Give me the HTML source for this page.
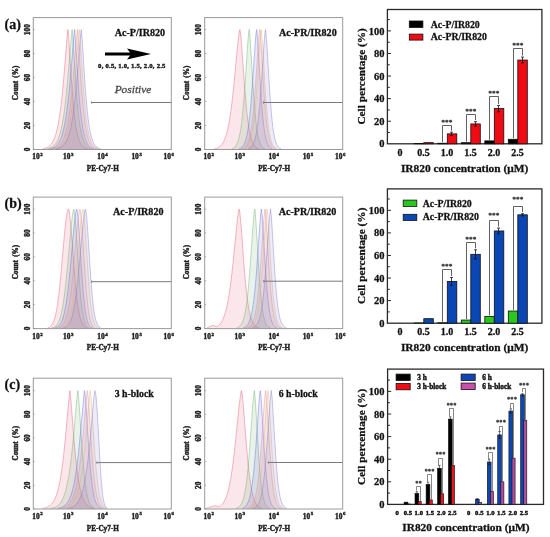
<!DOCTYPE html><html><head><meta charset="utf-8"><style>html,body{margin:0;padding:0;background:#fff;}svg{display:block;filter:blur(0.42px)} text{stroke-width:0.28px;paint-order:stroke} text.s{stroke-width:0.42px}</style></head><body>
<svg width="550" height="537" viewBox="0 0 550 537">
<rect width="550" height="537" fill="#fff"/>
<text x="4.6" y="28.90" style="font-family:'Liberation Serif',serif;font-weight:bold;font-size:14px" fill="#111" stroke="#111">(a)</text>
<text x="4.6" y="208.10" style="font-family:'Liberation Serif',serif;font-weight:bold;font-size:14px" fill="#111" stroke="#111">(b)</text>
<text x="4.6" y="389.20" style="font-family:'Liberation Serif',serif;font-weight:bold;font-size:14px" fill="#111" stroke="#111">(c)</text>
<g>
<path d="M42.7,149.40 L42.7,148.8 L43.5,148.7 L44.3,148.5 L45.1,148.3 L45.9,148.0 L46.7,147.7 L47.5,147.3 L48.3,146.8 L49.1,146.2 L49.9,145.5 L50.7,144.7 L51.5,143.7 L52.3,142.5 L53.1,141.0 L53.9,139.3 L54.8,137.3 L55.6,134.9 L56.4,132.1 L57.2,128.9 L58.0,125.1 L58.8,120.7 L59.6,115.7 L60.4,110.1 L61.2,103.7 L62.0,96.5 L62.8,88.6 L63.6,79.9 L64.4,70.5 L65.2,60.6 L66.0,50.5 L66.8,40.6 L67.6,32.0 L68.0,29.6 L68.5,34.3 L69.3,46.3 L70.1,59.4 L70.9,72.2 L71.7,84.1 L72.5,94.8 L73.3,104.1 L74.1,112.2 L74.9,119.1 L75.7,124.9 L76.5,129.7 L77.3,133.7 L78.1,136.9 L78.9,139.6 L79.7,141.7 L80.5,143.4 L81.3,144.7 L82.2,145.8 L83.0,146.6 L83.8,147.3 L84.6,147.8 L85.4,148.2 L86.2,148.5 L87.0,148.7 L87.8,148.9 L87.8,149.40 Z" fill="#e6506e" fill-opacity="0.14"/>
<path d="M42.7,148.8 L43.5,148.7 L44.3,148.5 L45.1,148.3 L45.9,148.0 L46.7,147.7 L47.5,147.3 L48.3,146.8 L49.1,146.2 L49.9,145.5 L50.7,144.7 L51.5,143.7 L52.3,142.5 L53.1,141.0 L53.9,139.3 L54.8,137.3 L55.6,134.9 L56.4,132.1 L57.2,128.9 L58.0,125.1 L58.8,120.7 L59.6,115.7 L60.4,110.1 L61.2,103.7 L62.0,96.5 L62.8,88.6 L63.6,79.9 L64.4,70.5 L65.2,60.6 L66.0,50.5 L66.8,40.6 L67.6,32.0 L68.0,29.6 L68.5,34.3 L69.3,46.3 L70.1,59.4 L70.9,72.2 L71.7,84.1 L72.5,94.8 L73.3,104.1 L74.1,112.2 L74.9,119.1 L75.7,124.9 L76.5,129.7 L77.3,133.7 L78.1,136.9 L78.9,139.6 L79.7,141.7 L80.5,143.4 L81.3,144.7 L82.2,145.8 L83.0,146.6 L83.8,147.3 L84.6,147.8 L85.4,148.2 L86.2,148.5 L87.0,148.7 L87.8,148.9" fill="none" stroke="#e6506e" stroke-opacity="0.5" stroke-width="0.8"/>
<path d="M46.7,149.40 L46.7,148.8 L47.5,148.7 L48.3,148.5 L49.1,148.3 L49.9,148.0 L50.7,147.7 L51.5,147.3 L52.3,146.9 L53.1,146.3 L53.9,145.6 L54.8,144.8 L55.6,143.8 L56.4,142.6 L57.2,141.2 L58.0,139.5 L58.8,137.5 L59.6,135.1 L60.4,132.4 L61.2,129.2 L62.0,125.4 L62.8,121.1 L63.6,116.2 L64.4,110.6 L65.2,104.3 L66.0,97.2 L66.8,89.3 L67.6,80.7 L68.5,71.3 L69.3,61.5 L70.1,51.4 L70.9,41.5 L71.7,32.7 L72.1,29.6 L72.5,33.4 L73.3,45.2 L74.1,58.3 L74.9,71.1 L75.7,83.1 L76.5,93.9 L77.3,103.4 L78.1,111.6 L78.9,118.6 L79.7,124.4 L80.5,129.3 L81.3,133.4 L82.2,136.7 L83.0,139.4 L83.8,141.5 L84.6,143.2 L85.4,144.6 L86.2,145.7 L87.0,146.5 L87.8,147.2 L88.6,147.7 L89.4,148.1 L90.2,148.4 L91.0,148.7 L91.8,148.9 L91.8,149.40 Z" fill="#64aa64" fill-opacity="0.14"/>
<path d="M46.7,148.8 L47.5,148.7 L48.3,148.5 L49.1,148.3 L49.9,148.0 L50.7,147.7 L51.5,147.3 L52.3,146.9 L53.1,146.3 L53.9,145.6 L54.8,144.8 L55.6,143.8 L56.4,142.6 L57.2,141.2 L58.0,139.5 L58.8,137.5 L59.6,135.1 L60.4,132.4 L61.2,129.2 L62.0,125.4 L62.8,121.1 L63.6,116.2 L64.4,110.6 L65.2,104.3 L66.0,97.2 L66.8,89.3 L67.6,80.7 L68.5,71.3 L69.3,61.5 L70.1,51.4 L70.9,41.5 L71.7,32.7 L72.1,29.6 L72.5,33.4 L73.3,45.2 L74.1,58.3 L74.9,71.1 L75.7,83.1 L76.5,93.9 L77.3,103.4 L78.1,111.6 L78.9,118.6 L79.7,124.4 L80.5,129.3 L81.3,133.4 L82.2,136.7 L83.0,139.4 L83.8,141.5 L84.6,143.2 L85.4,144.6 L86.2,145.7 L87.0,146.5 L87.8,147.2 L88.6,147.7 L89.4,148.1 L90.2,148.4 L91.0,148.7 L91.8,148.9" fill="none" stroke="#64aa64" stroke-opacity="0.5" stroke-width="0.8"/>
<path d="M49.1,149.40 L49.1,148.8 L49.9,148.7 L50.7,148.5 L51.5,148.3 L52.3,148.1 L53.1,147.8 L53.9,147.4 L54.8,146.9 L55.6,146.4 L56.4,145.7 L57.2,144.9 L58.0,143.9 L58.8,142.7 L59.6,141.3 L60.4,139.7 L61.2,137.7 L62.0,135.4 L62.8,132.7 L63.6,129.5 L64.4,125.8 L65.2,121.6 L66.0,116.7 L66.8,111.2 L67.6,104.9 L68.5,97.9 L69.3,90.1 L70.1,81.6 L70.9,72.3 L71.7,62.5 L72.5,52.4 L73.3,42.4 L74.1,33.5 L74.6,29.6 L74.9,32.4 L75.7,43.9 L76.5,57.0 L77.3,69.9 L78.1,81.9 L78.9,92.8 L79.7,102.5 L80.5,110.8 L81.3,117.9 L82.2,123.9 L83.0,128.9 L83.8,133.0 L84.6,136.4 L85.4,139.1 L86.2,141.3 L87.0,143.1 L87.8,144.5 L88.6,145.6 L89.4,146.5 L90.2,147.2 L91.0,147.7 L91.8,148.1 L92.6,148.4 L93.4,148.7 L94.2,148.8 L94.2,149.40 Z" fill="#5a64dc" fill-opacity="0.14"/>
<path d="M49.1,148.8 L49.9,148.7 L50.7,148.5 L51.5,148.3 L52.3,148.1 L53.1,147.8 L53.9,147.4 L54.8,146.9 L55.6,146.4 L56.4,145.7 L57.2,144.9 L58.0,143.9 L58.8,142.7 L59.6,141.3 L60.4,139.7 L61.2,137.7 L62.0,135.4 L62.8,132.7 L63.6,129.5 L64.4,125.8 L65.2,121.6 L66.0,116.7 L66.8,111.2 L67.6,104.9 L68.5,97.9 L69.3,90.1 L70.1,81.6 L70.9,72.3 L71.7,62.5 L72.5,52.4 L73.3,42.4 L74.1,33.5 L74.6,29.6 L74.9,32.4 L75.7,43.9 L76.5,57.0 L77.3,69.9 L78.1,81.9 L78.9,92.8 L79.7,102.5 L80.5,110.8 L81.3,117.9 L82.2,123.9 L83.0,128.9 L83.8,133.0 L84.6,136.4 L85.4,139.1 L86.2,141.3 L87.0,143.1 L87.8,144.5 L88.6,145.6 L89.4,146.5 L90.2,147.2 L91.0,147.7 L91.8,148.1 L92.6,148.4 L93.4,148.7 L94.2,148.8" fill="none" stroke="#5a64dc" stroke-opacity="0.5" stroke-width="0.8"/>
<path d="M51.5,149.40 L51.5,148.9 L52.3,148.8 L53.1,148.6 L53.9,148.5 L54.8,148.2 L55.6,148.0 L56.4,147.6 L57.2,147.2 L58.0,146.7 L58.8,146.1 L59.6,145.4 L60.4,144.5 L61.2,143.4 L62.0,142.2 L62.8,140.7 L63.6,138.9 L64.4,136.8 L65.2,134.3 L66.0,131.5 L66.8,128.1 L67.6,124.2 L68.5,119.7 L69.3,114.6 L70.1,108.8 L70.9,102.2 L71.7,94.9 L72.5,86.8 L73.3,77.9 L74.1,68.4 L74.9,58.5 L75.7,48.4 L76.5,38.6 L77.3,30.6 L77.5,29.6 L78.1,36.6 L78.9,49.1 L79.7,62.2 L80.5,74.8 L81.3,86.5 L82.2,96.8 L83.0,105.9 L83.8,113.8 L84.6,120.4 L85.4,126.0 L86.2,130.6 L87.0,134.4 L87.8,137.5 L88.6,140.1 L89.4,142.1 L90.2,143.7 L91.0,145.0 L91.8,146.0 L92.6,146.8 L93.4,147.4 L94.2,147.9 L95.0,148.2 L95.9,148.5 L96.7,148.7 L97.5,148.9 L97.5,149.40 Z" fill="#e6828c" fill-opacity="0.14"/>
<path d="M51.5,148.9 L52.3,148.8 L53.1,148.6 L53.9,148.5 L54.8,148.2 L55.6,148.0 L56.4,147.6 L57.2,147.2 L58.0,146.7 L58.8,146.1 L59.6,145.4 L60.4,144.5 L61.2,143.4 L62.0,142.2 L62.8,140.7 L63.6,138.9 L64.4,136.8 L65.2,134.3 L66.0,131.5 L66.8,128.1 L67.6,124.2 L68.5,119.7 L69.3,114.6 L70.1,108.8 L70.9,102.2 L71.7,94.9 L72.5,86.8 L73.3,77.9 L74.1,68.4 L74.9,58.5 L75.7,48.4 L76.5,38.6 L77.3,30.6 L77.5,29.6 L78.1,36.6 L78.9,49.1 L79.7,62.2 L80.5,74.8 L81.3,86.5 L82.2,96.8 L83.0,105.9 L83.8,113.8 L84.6,120.4 L85.4,126.0 L86.2,130.6 L87.0,134.4 L87.8,137.5 L88.6,140.1 L89.4,142.1 L90.2,143.7 L91.0,145.0 L91.8,146.0 L92.6,146.8 L93.4,147.4 L94.2,147.9 L95.0,148.2 L95.9,148.5 L96.7,148.7 L97.5,148.9" fill="none" stroke="#e6828c" stroke-opacity="0.5" stroke-width="0.8"/>
<path d="M53.9,149.40 L53.9,148.8 L54.8,148.7 L55.6,148.5 L56.4,148.3 L57.2,148.0 L58.0,147.7 L58.8,147.3 L59.6,146.8 L60.4,146.3 L61.2,145.6 L62.0,144.7 L62.8,143.7 L63.6,142.5 L64.4,141.1 L65.2,139.4 L66.0,137.3 L66.8,135.0 L67.6,132.2 L68.5,128.9 L69.3,125.2 L70.1,120.8 L70.9,115.9 L71.7,110.2 L72.5,103.8 L73.3,96.7 L74.1,88.7 L74.9,80.1 L75.7,70.7 L76.5,60.8 L77.3,50.7 L78.1,40.8 L78.9,32.2 L79.3,29.6 L79.7,34.1 L80.5,46.1 L81.3,59.2 L82.2,72.0 L83.0,83.8 L83.8,94.5 L84.6,103.9 L85.4,112.1 L86.2,119.0 L87.0,124.8 L87.8,129.6 L88.6,133.6 L89.4,136.9 L90.2,139.5 L91.0,141.6 L91.8,143.3 L92.6,144.7 L93.4,145.8 L94.2,146.6 L95.0,147.2 L95.9,147.8 L96.7,148.2 L97.5,148.5 L98.3,148.7 L99.1,148.9 L99.1,149.40 Z" fill="#d7af82" fill-opacity="0.14"/>
<path d="M53.9,148.8 L54.8,148.7 L55.6,148.5 L56.4,148.3 L57.2,148.0 L58.0,147.7 L58.8,147.3 L59.6,146.8 L60.4,146.3 L61.2,145.6 L62.0,144.7 L62.8,143.7 L63.6,142.5 L64.4,141.1 L65.2,139.4 L66.0,137.3 L66.8,135.0 L67.6,132.2 L68.5,128.9 L69.3,125.2 L70.1,120.8 L70.9,115.9 L71.7,110.2 L72.5,103.8 L73.3,96.7 L74.1,88.7 L74.9,80.1 L75.7,70.7 L76.5,60.8 L77.3,50.7 L78.1,40.8 L78.9,32.2 L79.3,29.6 L79.7,34.1 L80.5,46.1 L81.3,59.2 L82.2,72.0 L83.0,83.8 L83.8,94.5 L84.6,103.9 L85.4,112.1 L86.2,119.0 L87.0,124.8 L87.8,129.6 L88.6,133.6 L89.4,136.9 L90.2,139.5 L91.0,141.6 L91.8,143.3 L92.6,144.7 L93.4,145.8 L94.2,146.6 L95.0,147.2 L95.9,147.8 L96.7,148.2 L97.5,148.5 L98.3,148.7 L99.1,148.9" fill="none" stroke="#d7af82" stroke-opacity="0.5" stroke-width="0.8"/>
<path d="M55.6,149.40 L55.6,148.9 L56.4,148.7 L57.2,148.6 L58.0,148.4 L58.8,148.2 L59.6,147.9 L60.4,147.5 L61.2,147.1 L62.0,146.5 L62.8,145.9 L63.6,145.1 L64.4,144.2 L65.2,143.1 L66.0,141.8 L66.8,140.2 L67.6,138.3 L68.5,136.2 L69.3,133.6 L70.1,130.6 L70.9,127.1 L71.7,123.0 L72.5,118.3 L73.3,113.0 L74.1,107.0 L74.9,100.2 L75.7,92.7 L76.5,84.3 L77.3,75.3 L78.1,65.7 L78.9,55.6 L79.7,45.5 L80.5,36.1 L81.3,29.6 L81.3,29.9 L82.2,40.0 L83.0,52.8 L83.8,65.9 L84.6,78.3 L85.4,89.5 L86.2,99.6 L87.0,108.3 L87.8,115.8 L88.6,122.1 L89.4,127.4 L90.2,131.8 L91.0,135.4 L91.8,138.3 L92.6,140.7 L93.4,142.6 L94.2,144.1 L95.0,145.3 L95.9,146.2 L96.7,147.0 L97.5,147.5 L98.3,148.0 L99.1,148.3 L99.9,148.6 L100.7,148.8 L100.7,149.40 Z" fill="#826ec8" fill-opacity="0.14"/>
<path d="M55.6,148.9 L56.4,148.7 L57.2,148.6 L58.0,148.4 L58.8,148.2 L59.6,147.9 L60.4,147.5 L61.2,147.1 L62.0,146.5 L62.8,145.9 L63.6,145.1 L64.4,144.2 L65.2,143.1 L66.0,141.8 L66.8,140.2 L67.6,138.3 L68.5,136.2 L69.3,133.6 L70.1,130.6 L70.9,127.1 L71.7,123.0 L72.5,118.3 L73.3,113.0 L74.1,107.0 L74.9,100.2 L75.7,92.7 L76.5,84.3 L77.3,75.3 L78.1,65.7 L78.9,55.6 L79.7,45.5 L80.5,36.1 L81.3,29.6 L81.3,29.9 L82.2,40.0 L83.0,52.8 L83.8,65.9 L84.6,78.3 L85.4,89.5 L86.2,99.6 L87.0,108.3 L87.8,115.8 L88.6,122.1 L89.4,127.4 L90.2,131.8 L91.0,135.4 L91.8,138.3 L92.6,140.7 L93.4,142.6 L94.2,144.1 L95.0,145.3 L95.9,146.2 L96.7,147.0 L97.5,147.5 L98.3,148.0 L99.1,148.3 L99.9,148.6 L100.7,148.8" fill="none" stroke="#826ec8" stroke-opacity="0.5" stroke-width="0.8"/>
</g>
<rect x="33.30" y="17.60" width="138.00" height="131.90" fill="none" stroke="#9a9a9a" stroke-width="1"/>
<line x1="33.30" y1="149.40" x2="34.80" y2="149.40" stroke="#888" stroke-width="0.6"/>
<text class="s" transform="translate(29.50,149.40) rotate(-90)" text-anchor="middle" style="font-family:'Liberation Serif',serif;font-weight:bold;font-size:7.4px" fill="#222" stroke="#222">0</text>
<line x1="33.30" y1="125.44" x2="34.80" y2="125.44" stroke="#888" stroke-width="0.6"/>
<text class="s" transform="translate(29.50,125.44) rotate(-90)" text-anchor="middle" style="font-family:'Liberation Serif',serif;font-weight:bold;font-size:7.4px" fill="#222" stroke="#222">20</text>
<line x1="33.30" y1="101.48" x2="34.80" y2="101.48" stroke="#888" stroke-width="0.6"/>
<text class="s" transform="translate(29.50,101.48) rotate(-90)" text-anchor="middle" style="font-family:'Liberation Serif',serif;font-weight:bold;font-size:7.4px" fill="#222" stroke="#222">40</text>
<line x1="33.30" y1="77.52" x2="34.80" y2="77.52" stroke="#888" stroke-width="0.6"/>
<text class="s" transform="translate(29.50,77.52) rotate(-90)" text-anchor="middle" style="font-family:'Liberation Serif',serif;font-weight:bold;font-size:7.4px" fill="#222" stroke="#222">60</text>
<line x1="33.30" y1="53.56" x2="34.80" y2="53.56" stroke="#888" stroke-width="0.6"/>
<text class="s" transform="translate(29.50,53.56) rotate(-90)" text-anchor="middle" style="font-family:'Liberation Serif',serif;font-weight:bold;font-size:7.4px" fill="#222" stroke="#222">80</text>
<line x1="33.30" y1="29.60" x2="34.80" y2="29.60" stroke="#888" stroke-width="0.6"/>
<text class="s" transform="translate(29.50,29.60) rotate(-90)" text-anchor="middle" style="font-family:'Liberation Serif',serif;font-weight:bold;font-size:7.4px" fill="#222" stroke="#222">100</text>
<text class="s" transform="translate(17.90,82.90) rotate(-90)" text-anchor="middle" style="font-family:'Liberation Serif',serif;font-weight:bold;font-size:7.2px" fill="#222" stroke="#222">Count<tspan dx="3.3">(%)</tspan></text>
<text class="s" x="32.20" y="159.20" style="font-family:'Liberation Serif',serif;font-weight:bold;font-size:7.4px" fill="#222" stroke="#222">10<tspan dx="0.6" dy="-3.1" style="font-size:4.9px">2</tspan></text>
<text class="s" x="63.10" y="159.20" style="font-family:'Liberation Serif',serif;font-weight:bold;font-size:7.4px" fill="#222" stroke="#222">10<tspan dx="0.6" dy="-3.1" style="font-size:4.9px">3</tspan></text>
<text class="s" x="97.20" y="159.20" style="font-family:'Liberation Serif',serif;font-weight:bold;font-size:7.4px" fill="#222" stroke="#222">10<tspan dx="0.6" dy="-3.1" style="font-size:4.9px">4</tspan></text>
<text class="s" x="131.40" y="159.20" style="font-family:'Liberation Serif',serif;font-weight:bold;font-size:7.4px" fill="#222" stroke="#222">10<tspan dx="0.6" dy="-3.1" style="font-size:4.9px">5</tspan></text>
<text class="s" x="163.60" y="159.20" style="font-family:'Liberation Serif',serif;font-weight:bold;font-size:7.4px" fill="#222" stroke="#222">10<tspan dx="0.6" dy="-3.1" style="font-size:4.9px">6</tspan></text>
<text class="s" x="102.80" y="170.80" text-anchor="middle" style="font-family:'Liberation Serif',serif;font-weight:bold;font-size:7.2px" fill="#222" stroke="#222">PE-Cy7-H</text>
<line x1="91.40" y1="102.50" x2="171.30" y2="102.50" stroke="#7a7a7a" stroke-width="1"/>
<line x1="91.40" y1="101.30" x2="91.40" y2="103.70" stroke="#777" stroke-width="0.8"/>
<text x="165.10" y="35.90" text-anchor="end" style="font-family:'Liberation Serif',serif;font-weight:bold;font-size:10.1px" fill="#111" stroke="#111">Ac-P/IR820</text>
<path d="M105,52.4 H130 L127,48.6 L151,54 L127,59.4 L130,55.6 H105 Z" fill="#000"/>
<text class="s" x="131.9" y="67.8" text-anchor="middle" style="font-family:'Liberation Serif',serif;font-weight:bold;font-size:6.7px;letter-spacing:0.22px" fill="#222" stroke="#222">0, 0.5, 1.0, 1.5, 2.0, 2.5</text>
<text x="133.0" y="93.3" text-anchor="middle" style="font-family:'Liberation Serif',serif;font-style:italic;font-size:11.4px;stroke-width:0.3px" fill="#484848" stroke="#484848">Positive</text>
<g>
<path d="M214.1,149.40 L214.1,148.9 L214.9,148.8 L215.7,148.6 L216.5,148.4 L217.3,148.1 L218.1,147.7 L218.9,147.3 L219.7,146.7 L220.5,146.0 L221.3,145.2 L222.1,144.2 L222.9,143.0 L223.7,141.5 L224.5,139.7 L225.3,137.6 L226.2,135.2 L227.0,132.3 L227.8,129.0 L228.6,125.1 L229.4,120.7 L230.2,115.7 L231.0,110.0 L231.8,103.8 L232.6,96.9 L233.4,89.4 L234.2,81.5 L235.0,73.1 L235.8,64.5 L236.6,55.9 L237.4,47.5 L238.2,39.8 L239.0,33.5 L239.9,29.7 L239.9,29.6 L240.7,34.5 L241.5,43.5 L242.3,54.3 L243.1,65.7 L243.9,76.9 L244.7,87.6 L245.5,97.5 L246.3,106.4 L247.1,114.1 L247.9,120.8 L248.7,126.5 L249.5,131.3 L250.3,135.2 L251.1,138.3 L251.9,140.9 L252.7,142.9 L253.6,144.5 L254.4,145.7 L255.2,146.6 L256.0,147.4 L256.8,147.9 L257.6,148.3 L258.4,148.6 L259.2,148.8 L259.2,149.40 Z" fill="#e6506e" fill-opacity="0.14"/>
<path d="M214.1,148.9 L214.9,148.8 L215.7,148.6 L216.5,148.4 L217.3,148.1 L218.1,147.7 L218.9,147.3 L219.7,146.7 L220.5,146.0 L221.3,145.2 L222.1,144.2 L222.9,143.0 L223.7,141.5 L224.5,139.7 L225.3,137.6 L226.2,135.2 L227.0,132.3 L227.8,129.0 L228.6,125.1 L229.4,120.7 L230.2,115.7 L231.0,110.0 L231.8,103.8 L232.6,96.9 L233.4,89.4 L234.2,81.5 L235.0,73.1 L235.8,64.5 L236.6,55.9 L237.4,47.5 L238.2,39.8 L239.0,33.5 L239.9,29.7 L239.9,29.6 L240.7,34.5 L241.5,43.5 L242.3,54.3 L243.1,65.7 L243.9,76.9 L244.7,87.6 L245.5,97.5 L246.3,106.4 L247.1,114.1 L247.9,120.8 L248.7,126.5 L249.5,131.3 L250.3,135.2 L251.1,138.3 L251.9,140.9 L252.7,142.9 L253.6,144.5 L254.4,145.7 L255.2,146.6 L256.0,147.4 L256.8,147.9 L257.6,148.3 L258.4,148.6 L259.2,148.8" fill="none" stroke="#e6506e" stroke-opacity="0.5" stroke-width="0.8"/>
<path d="M231.8,149.40 L231.8,148.7 L232.6,148.5 L233.4,148.1 L234.2,147.5 L235.0,146.8 L235.8,145.8 L236.6,144.5 L237.4,142.7 L238.2,140.5 L239.0,137.6 L239.9,133.9 L240.7,129.3 L241.5,123.7 L242.3,116.9 L243.1,108.9 L243.9,99.6 L244.7,89.1 L245.5,77.5 L246.3,65.3 L247.1,53.0 L247.9,41.5 L248.7,32.4 L249.2,29.6 L249.5,31.4 L250.3,41.1 L251.1,53.9 L251.9,67.7 L252.7,81.2 L253.6,93.7 L254.4,104.8 L255.2,114.3 L256.0,122.3 L256.8,128.8 L257.6,133.9 L258.4,138.0 L259.2,141.1 L260.0,143.4 L260.8,145.1 L261.6,146.4 L262.4,147.3 L263.2,148.0 L264.0,148.4 L264.8,148.7 L264.8,149.40 Z" fill="#64aa64" fill-opacity="0.14"/>
<path d="M231.8,148.7 L232.6,148.5 L233.4,148.1 L234.2,147.5 L235.0,146.8 L235.8,145.8 L236.6,144.5 L237.4,142.7 L238.2,140.5 L239.0,137.6 L239.9,133.9 L240.7,129.3 L241.5,123.7 L242.3,116.9 L243.1,108.9 L243.9,99.6 L244.7,89.1 L245.5,77.5 L246.3,65.3 L247.1,53.0 L247.9,41.5 L248.7,32.4 L249.2,29.6 L249.5,31.4 L250.3,41.1 L251.1,53.9 L251.9,67.7 L252.7,81.2 L253.6,93.7 L254.4,104.8 L255.2,114.3 L256.0,122.3 L256.8,128.8 L257.6,133.9 L258.4,138.0 L259.2,141.1 L260.0,143.4 L260.8,145.1 L261.6,146.4 L262.4,147.3 L263.2,148.0 L264.0,148.4 L264.8,148.7" fill="none" stroke="#64aa64" stroke-opacity="0.5" stroke-width="0.8"/>
<path d="M239.0,149.40 L239.0,148.8 L239.9,148.5 L240.7,148.1 L241.5,147.6 L242.3,146.9 L243.1,146.0 L243.9,144.7 L244.7,143.1 L245.5,140.9 L246.3,138.2 L247.1,134.6 L247.9,130.2 L248.7,124.8 L249.5,118.3 L250.3,110.5 L251.1,101.4 L251.9,91.1 L252.7,79.7 L253.6,67.5 L254.4,55.2 L255.2,43.5 L256.0,33.8 L256.6,29.6 L256.8,30.3 L257.6,39.0 L258.4,51.5 L259.2,65.2 L260.0,78.8 L260.8,91.5 L261.6,102.9 L262.4,112.7 L263.2,120.9 L264.0,127.7 L264.8,133.1 L265.6,137.3 L266.4,140.6 L267.3,143.0 L268.1,144.9 L268.9,146.2 L269.7,147.2 L270.5,147.9 L271.3,148.4 L272.1,148.7 L272.1,149.40 Z" fill="#5a64dc" fill-opacity="0.14"/>
<path d="M239.0,148.8 L239.9,148.5 L240.7,148.1 L241.5,147.6 L242.3,146.9 L243.1,146.0 L243.9,144.7 L244.7,143.1 L245.5,140.9 L246.3,138.2 L247.1,134.6 L247.9,130.2 L248.7,124.8 L249.5,118.3 L250.3,110.5 L251.1,101.4 L251.9,91.1 L252.7,79.7 L253.6,67.5 L254.4,55.2 L255.2,43.5 L256.0,33.8 L256.6,29.6 L256.8,30.3 L257.6,39.0 L258.4,51.5 L259.2,65.2 L260.0,78.8 L260.8,91.5 L261.6,102.9 L262.4,112.7 L263.2,120.9 L264.0,127.7 L264.8,133.1 L265.6,137.3 L266.4,140.6 L267.3,143.0 L268.1,144.9 L268.9,146.2 L269.7,147.2 L270.5,147.9 L271.3,148.4 L272.1,148.7" fill="none" stroke="#5a64dc" stroke-opacity="0.5" stroke-width="0.8"/>
<path d="M242.3,149.40 L242.3,148.7 L243.1,148.5 L243.9,148.1 L244.7,147.5 L245.5,146.8 L246.3,145.8 L247.1,144.5 L247.9,142.8 L248.7,140.6 L249.5,137.7 L250.3,134.0 L251.1,129.5 L251.9,123.9 L252.7,117.2 L253.6,109.2 L254.4,99.9 L255.2,89.4 L256.0,77.9 L256.8,65.6 L257.6,53.3 L258.4,41.8 L259.2,32.6 L259.7,29.6 L260.0,31.2 L260.8,40.8 L261.6,53.5 L262.4,67.3 L263.2,80.8 L264.0,93.4 L264.8,104.5 L265.6,114.1 L266.4,122.1 L267.3,128.6 L268.1,133.8 L268.9,137.9 L269.7,141.0 L270.5,143.3 L271.3,145.1 L272.1,146.4 L272.9,147.3 L273.7,148.0 L274.5,148.4 L275.3,148.7 L275.3,149.40 Z" fill="#e6828c" fill-opacity="0.14"/>
<path d="M242.3,148.7 L243.1,148.5 L243.9,148.1 L244.7,147.5 L245.5,146.8 L246.3,145.8 L247.1,144.5 L247.9,142.8 L248.7,140.6 L249.5,137.7 L250.3,134.0 L251.1,129.5 L251.9,123.9 L252.7,117.2 L253.6,109.2 L254.4,99.9 L255.2,89.4 L256.0,77.9 L256.8,65.6 L257.6,53.3 L258.4,41.8 L259.2,32.6 L259.7,29.6 L260.0,31.2 L260.8,40.8 L261.6,53.5 L262.4,67.3 L263.2,80.8 L264.0,93.4 L264.8,104.5 L265.6,114.1 L266.4,122.1 L267.3,128.6 L268.1,133.8 L268.9,137.9 L269.7,141.0 L270.5,143.3 L271.3,145.1 L272.1,146.4 L272.9,147.3 L273.7,148.0 L274.5,148.4 L275.3,148.7" fill="none" stroke="#e6828c" stroke-opacity="0.5" stroke-width="0.8"/>
<path d="M243.9,149.40 L243.9,148.7 L244.7,148.4 L245.5,148.0 L246.3,147.4 L247.1,146.7 L247.9,145.7 L248.7,144.3 L249.5,142.5 L250.3,140.2 L251.1,137.2 L251.9,133.5 L252.7,128.8 L253.6,123.0 L254.4,116.1 L255.2,108.0 L256.0,98.5 L256.8,87.9 L257.6,76.2 L258.4,63.9 L259.2,51.6 L260.0,40.4 L260.8,31.7 L261.2,29.6 L261.6,32.2 L262.4,42.4 L263.2,55.4 L264.0,69.2 L264.8,82.6 L265.6,95.0 L266.4,105.9 L267.3,115.3 L268.1,123.1 L268.9,129.4 L269.7,134.4 L270.5,138.3 L271.3,141.3 L272.1,143.6 L272.9,145.3 L273.7,146.5 L274.5,147.4 L275.3,148.0 L276.1,148.5 L276.9,148.8 L276.9,149.40 Z" fill="#d7af82" fill-opacity="0.14"/>
<path d="M243.9,148.7 L244.7,148.4 L245.5,148.0 L246.3,147.4 L247.1,146.7 L247.9,145.7 L248.7,144.3 L249.5,142.5 L250.3,140.2 L251.1,137.2 L251.9,133.5 L252.7,128.8 L253.6,123.0 L254.4,116.1 L255.2,108.0 L256.0,98.5 L256.8,87.9 L257.6,76.2 L258.4,63.9 L259.2,51.6 L260.0,40.4 L260.8,31.7 L261.2,29.6 L261.6,32.2 L262.4,42.4 L263.2,55.4 L264.0,69.2 L264.8,82.6 L265.6,95.0 L266.4,105.9 L267.3,115.3 L268.1,123.1 L268.9,129.4 L269.7,134.4 L270.5,138.3 L271.3,141.3 L272.1,143.6 L272.9,145.3 L273.7,146.5 L274.5,147.4 L275.3,148.0 L276.1,148.5 L276.9,148.8" fill="none" stroke="#d7af82" stroke-opacity="0.5" stroke-width="0.8"/>
<path d="M247.9,149.40 L247.9,148.8 L248.7,148.5 L249.5,148.2 L250.3,147.7 L251.1,147.0 L251.9,146.0 L252.7,144.8 L253.6,143.2 L254.4,141.0 L255.2,138.3 L256.0,134.8 L256.8,130.5 L257.6,125.1 L258.4,118.6 L259.2,110.8 L260.0,101.8 L260.8,91.6 L261.6,80.2 L262.4,68.1 L263.2,55.7 L264.0,44.0 L264.8,34.2 L265.5,29.6 L265.6,30.1 L266.4,38.6 L267.3,50.9 L268.1,64.6 L268.9,78.2 L269.7,91.0 L270.5,102.4 L271.3,112.3 L272.1,120.6 L272.9,127.4 L273.7,132.9 L274.5,137.1 L275.3,140.4 L276.1,142.9 L276.9,144.8 L277.7,146.1 L278.5,147.1 L279.3,147.8 L280.1,148.3 L281.0,148.7 L281.0,149.40 Z" fill="#826ec8" fill-opacity="0.14"/>
<path d="M247.9,148.8 L248.7,148.5 L249.5,148.2 L250.3,147.7 L251.1,147.0 L251.9,146.0 L252.7,144.8 L253.6,143.2 L254.4,141.0 L255.2,138.3 L256.0,134.8 L256.8,130.5 L257.6,125.1 L258.4,118.6 L259.2,110.8 L260.0,101.8 L260.8,91.6 L261.6,80.2 L262.4,68.1 L263.2,55.7 L264.0,44.0 L264.8,34.2 L265.5,29.6 L265.6,30.1 L266.4,38.6 L267.3,50.9 L268.1,64.6 L268.9,78.2 L269.7,91.0 L270.5,102.4 L271.3,112.3 L272.1,120.6 L272.9,127.4 L273.7,132.9 L274.5,137.1 L275.3,140.4 L276.1,142.9 L276.9,144.8 L277.7,146.1 L278.5,147.1 L279.3,147.8 L280.1,148.3 L281.0,148.7" fill="none" stroke="#826ec8" stroke-opacity="0.5" stroke-width="0.8"/>
</g>
<rect x="204.70" y="17.60" width="138.00" height="131.90" fill="none" stroke="#9a9a9a" stroke-width="1"/>
<line x1="204.70" y1="149.40" x2="206.20" y2="149.40" stroke="#888" stroke-width="0.6"/>
<text class="s" transform="translate(200.90,149.40) rotate(-90)" text-anchor="middle" style="font-family:'Liberation Serif',serif;font-weight:bold;font-size:7.4px" fill="#222" stroke="#222">0</text>
<line x1="204.70" y1="125.44" x2="206.20" y2="125.44" stroke="#888" stroke-width="0.6"/>
<text class="s" transform="translate(200.90,125.44) rotate(-90)" text-anchor="middle" style="font-family:'Liberation Serif',serif;font-weight:bold;font-size:7.4px" fill="#222" stroke="#222">20</text>
<line x1="204.70" y1="101.48" x2="206.20" y2="101.48" stroke="#888" stroke-width="0.6"/>
<text class="s" transform="translate(200.90,101.48) rotate(-90)" text-anchor="middle" style="font-family:'Liberation Serif',serif;font-weight:bold;font-size:7.4px" fill="#222" stroke="#222">40</text>
<line x1="204.70" y1="77.52" x2="206.20" y2="77.52" stroke="#888" stroke-width="0.6"/>
<text class="s" transform="translate(200.90,77.52) rotate(-90)" text-anchor="middle" style="font-family:'Liberation Serif',serif;font-weight:bold;font-size:7.4px" fill="#222" stroke="#222">60</text>
<line x1="204.70" y1="53.56" x2="206.20" y2="53.56" stroke="#888" stroke-width="0.6"/>
<text class="s" transform="translate(200.90,53.56) rotate(-90)" text-anchor="middle" style="font-family:'Liberation Serif',serif;font-weight:bold;font-size:7.4px" fill="#222" stroke="#222">80</text>
<line x1="204.70" y1="29.60" x2="206.20" y2="29.60" stroke="#888" stroke-width="0.6"/>
<text class="s" transform="translate(200.90,29.60) rotate(-90)" text-anchor="middle" style="font-family:'Liberation Serif',serif;font-weight:bold;font-size:7.4px" fill="#222" stroke="#222">100</text>
<text class="s" transform="translate(189.30,82.90) rotate(-90)" text-anchor="middle" style="font-family:'Liberation Serif',serif;font-weight:bold;font-size:7.2px" fill="#222" stroke="#222">Count<tspan dx="3.3">(%)</tspan></text>
<text class="s" x="203.60" y="159.20" style="font-family:'Liberation Serif',serif;font-weight:bold;font-size:7.4px" fill="#222" stroke="#222">10<tspan dx="0.6" dy="-3.1" style="font-size:4.9px">2</tspan></text>
<text class="s" x="234.50" y="159.20" style="font-family:'Liberation Serif',serif;font-weight:bold;font-size:7.4px" fill="#222" stroke="#222">10<tspan dx="0.6" dy="-3.1" style="font-size:4.9px">3</tspan></text>
<text class="s" x="268.60" y="159.20" style="font-family:'Liberation Serif',serif;font-weight:bold;font-size:7.4px" fill="#222" stroke="#222">10<tspan dx="0.6" dy="-3.1" style="font-size:4.9px">4</tspan></text>
<text class="s" x="302.80" y="159.20" style="font-family:'Liberation Serif',serif;font-weight:bold;font-size:7.4px" fill="#222" stroke="#222">10<tspan dx="0.6" dy="-3.1" style="font-size:4.9px">5</tspan></text>
<text class="s" x="335.00" y="159.20" style="font-family:'Liberation Serif',serif;font-weight:bold;font-size:7.4px" fill="#222" stroke="#222">10<tspan dx="0.6" dy="-3.1" style="font-size:4.9px">6</tspan></text>
<text class="s" x="274.20" y="170.80" text-anchor="middle" style="font-family:'Liberation Serif',serif;font-weight:bold;font-size:7.2px" fill="#222" stroke="#222">PE-Cy7-H</text>
<line x1="263.50" y1="102.50" x2="342.70" y2="102.50" stroke="#7a7a7a" stroke-width="1"/>
<line x1="263.50" y1="101.30" x2="263.50" y2="103.70" stroke="#777" stroke-width="0.8"/>
<text x="336.70" y="35.90" text-anchor="end" style="font-family:'Liberation Serif',serif;font-weight:bold;font-size:10.1px" fill="#111" stroke="#111">Ac-PR/IR820</text>
<g>
<path d="M47.5,328.50 L47.5,328.0 L48.3,327.7 L49.1,327.4 L49.9,326.9 L50.7,326.3 L51.5,325.4 L52.3,324.2 L53.1,322.6 L53.9,320.6 L54.8,318.1 L55.6,314.9 L56.4,311.1 L57.2,306.4 L58.0,301.0 L58.8,294.7 L59.6,287.5 L60.4,279.6 L61.2,271.1 L62.0,262.1 L62.8,252.8 L63.6,243.6 L64.4,234.8 L65.2,226.7 L66.0,219.7 L66.8,214.2 L67.6,210.6 L68.5,209.1 L68.5,209.1 L69.3,211.8 L70.1,218.1 L70.9,226.6 L71.7,236.5 L72.5,247.1 L73.3,257.8 L74.1,268.2 L74.9,277.9 L75.7,286.7 L76.5,294.6 L77.3,301.3 L78.1,307.1 L78.9,311.8 L79.7,315.7 L80.5,318.8 L81.3,321.3 L82.2,323.2 L83.0,324.6 L83.8,325.7 L84.6,326.5 L85.4,327.1 L86.2,327.5 L87.0,327.8 L87.0,328.50 Z" fill="#e6506e" fill-opacity="0.14"/>
<path d="M47.5,328.0 L48.3,327.7 L49.1,327.4 L49.9,326.9 L50.7,326.3 L51.5,325.4 L52.3,324.2 L53.1,322.6 L53.9,320.6 L54.8,318.1 L55.6,314.9 L56.4,311.1 L57.2,306.4 L58.0,301.0 L58.8,294.7 L59.6,287.5 L60.4,279.6 L61.2,271.1 L62.0,262.1 L62.8,252.8 L63.6,243.6 L64.4,234.8 L65.2,226.7 L66.0,219.7 L66.8,214.2 L67.6,210.6 L68.5,209.1 L68.5,209.1 L69.3,211.8 L70.1,218.1 L70.9,226.6 L71.7,236.5 L72.5,247.1 L73.3,257.8 L74.1,268.2 L74.9,277.9 L75.7,286.7 L76.5,294.6 L77.3,301.3 L78.1,307.1 L78.9,311.8 L79.7,315.7 L80.5,318.8 L81.3,321.3 L82.2,323.2 L83.0,324.6 L83.8,325.7 L84.6,326.5 L85.4,327.1 L86.2,327.5 L87.0,327.8" fill="none" stroke="#e6506e" stroke-opacity="0.5" stroke-width="0.8"/>
<path d="M51.5,328.50 L51.5,328.0 L52.3,327.8 L53.1,327.6 L53.9,327.2 L54.8,326.8 L55.6,326.2 L56.4,325.4 L57.2,324.4 L58.0,323.1 L58.8,321.4 L59.6,319.4 L60.4,316.9 L61.2,313.9 L62.0,310.3 L62.8,306.0 L63.6,301.0 L64.4,295.3 L65.2,288.7 L66.0,281.5 L66.8,273.5 L67.6,265.0 L68.5,256.0 L69.3,246.8 L70.1,237.8 L70.9,229.2 L71.7,221.4 L72.5,215.0 L73.3,210.5 L73.9,209.1 L74.1,209.5 L74.9,215.0 L75.7,224.4 L76.5,236.2 L77.3,249.0 L78.1,261.9 L78.9,274.0 L79.7,285.0 L80.5,294.6 L81.3,302.6 L82.2,309.2 L83.0,314.4 L83.8,318.4 L84.6,321.4 L85.4,323.6 L86.2,325.2 L87.0,326.3 L87.8,327.1 L88.6,327.6 L89.4,327.9 L89.4,328.50 Z" fill="#64aa64" fill-opacity="0.14"/>
<path d="M51.5,328.0 L52.3,327.8 L53.1,327.6 L53.9,327.2 L54.8,326.8 L55.6,326.2 L56.4,325.4 L57.2,324.4 L58.0,323.1 L58.8,321.4 L59.6,319.4 L60.4,316.9 L61.2,313.9 L62.0,310.3 L62.8,306.0 L63.6,301.0 L64.4,295.3 L65.2,288.7 L66.0,281.5 L66.8,273.5 L67.6,265.0 L68.5,256.0 L69.3,246.8 L70.1,237.8 L70.9,229.2 L71.7,221.4 L72.5,215.0 L73.3,210.5 L73.9,209.1 L74.1,209.5 L74.9,215.0 L75.7,224.4 L76.5,236.2 L77.3,249.0 L78.1,261.9 L78.9,274.0 L79.7,285.0 L80.5,294.6 L81.3,302.6 L82.2,309.2 L83.0,314.4 L83.8,318.4 L84.6,321.4 L85.4,323.6 L86.2,325.2 L87.0,326.3 L87.8,327.1 L88.6,327.6 L89.4,327.9" fill="none" stroke="#64aa64" stroke-opacity="0.5" stroke-width="0.8"/>
<path d="M54.8,328.50 L54.8,327.9 L55.6,327.7 L56.4,327.4 L57.2,327.0 L58.0,326.5 L58.8,325.9 L59.6,325.0 L60.4,323.9 L61.2,322.5 L62.0,320.7 L62.8,318.5 L63.6,315.8 L64.4,312.6 L65.2,308.7 L66.0,304.1 L66.8,298.8 L67.6,292.7 L68.5,285.9 L69.3,278.3 L70.1,270.1 L70.9,261.4 L71.7,252.3 L72.5,243.2 L73.3,234.3 L74.1,225.9 L74.9,218.6 L75.7,212.9 L76.5,209.5 L76.8,209.1 L77.3,211.0 L78.1,218.4 L78.9,229.0 L79.7,241.3 L80.5,254.2 L81.3,266.9 L82.2,278.6 L83.0,289.0 L83.8,298.0 L84.6,305.4 L85.4,311.4 L86.2,316.1 L87.0,319.7 L87.8,322.3 L88.6,324.3 L89.4,325.7 L90.2,326.6 L91.0,327.3 L91.8,327.7 L92.6,328.0 L92.6,328.50 Z" fill="#5a64dc" fill-opacity="0.14"/>
<path d="M54.8,327.9 L55.6,327.7 L56.4,327.4 L57.2,327.0 L58.0,326.5 L58.8,325.9 L59.6,325.0 L60.4,323.9 L61.2,322.5 L62.0,320.7 L62.8,318.5 L63.6,315.8 L64.4,312.6 L65.2,308.7 L66.0,304.1 L66.8,298.8 L67.6,292.7 L68.5,285.9 L69.3,278.3 L70.1,270.1 L70.9,261.4 L71.7,252.3 L72.5,243.2 L73.3,234.3 L74.1,225.9 L74.9,218.6 L75.7,212.9 L76.5,209.5 L76.8,209.1 L77.3,211.0 L78.1,218.4 L78.9,229.0 L79.7,241.3 L80.5,254.2 L81.3,266.9 L82.2,278.6 L83.0,289.0 L83.8,298.0 L84.6,305.4 L85.4,311.4 L86.2,316.1 L87.0,319.7 L87.8,322.3 L88.6,324.3 L89.4,325.7 L90.2,326.6 L91.0,327.3 L91.8,327.7 L92.6,328.0" fill="none" stroke="#5a64dc" stroke-opacity="0.5" stroke-width="0.8"/>
<path d="M58.0,328.50 L58.0,327.9 L58.8,327.7 L59.6,327.4 L60.4,327.0 L61.2,326.5 L62.0,325.8 L62.8,325.0 L63.6,323.8 L64.4,322.4 L65.2,320.6 L66.0,318.4 L66.8,315.7 L67.6,312.5 L68.5,308.6 L69.3,304.0 L70.1,298.6 L70.9,292.5 L71.7,285.7 L72.5,278.1 L73.3,269.9 L74.1,261.1 L74.9,252.1 L75.7,242.9 L76.5,234.0 L77.3,225.7 L78.1,218.4 L78.9,212.8 L79.7,209.4 L80.0,209.1 L80.5,211.2 L81.3,218.7 L82.2,229.3 L83.0,241.7 L83.8,254.6 L84.6,267.2 L85.4,278.9 L86.2,289.3 L87.0,298.2 L87.8,305.6 L88.6,311.6 L89.4,316.2 L90.2,319.8 L91.0,322.4 L91.8,324.3 L92.6,325.7 L93.4,326.7 L94.2,327.3 L95.0,327.7 L95.0,328.50 Z" fill="#e6828c" fill-opacity="0.14"/>
<path d="M58.0,327.9 L58.8,327.7 L59.6,327.4 L60.4,327.0 L61.2,326.5 L62.0,325.8 L62.8,325.0 L63.6,323.8 L64.4,322.4 L65.2,320.6 L66.0,318.4 L66.8,315.7 L67.6,312.5 L68.5,308.6 L69.3,304.0 L70.1,298.6 L70.9,292.5 L71.7,285.7 L72.5,278.1 L73.3,269.9 L74.1,261.1 L74.9,252.1 L75.7,242.9 L76.5,234.0 L77.3,225.7 L78.1,218.4 L78.9,212.8 L79.7,209.4 L80.0,209.1 L80.5,211.2 L81.3,218.7 L82.2,229.3 L83.0,241.7 L83.8,254.6 L84.6,267.2 L85.4,278.9 L86.2,289.3 L87.0,298.2 L87.8,305.6 L88.6,311.6 L89.4,316.2 L90.2,319.8 L91.0,322.4 L91.8,324.3 L92.6,325.7 L93.4,326.7 L94.2,327.3 L95.0,327.7" fill="none" stroke="#e6828c" stroke-opacity="0.5" stroke-width="0.8"/>
<path d="M61.2,328.50 L61.2,327.9 L62.0,327.7 L62.8,327.4 L63.6,327.0 L64.4,326.4 L65.2,325.7 L66.0,324.8 L66.8,323.6 L67.6,322.2 L68.5,320.3 L69.3,318.0 L70.1,315.3 L70.9,311.9 L71.7,307.9 L72.5,303.2 L73.3,297.8 L74.1,291.5 L74.9,284.6 L75.7,276.9 L76.5,268.6 L77.3,259.8 L78.1,250.7 L78.9,241.5 L79.7,232.7 L80.5,224.5 L81.3,217.5 L82.2,212.1 L83.0,209.2 L83.1,209.1 L83.8,212.1 L84.6,220.1 L85.4,231.1 L86.2,243.6 L87.0,256.6 L87.8,269.1 L88.6,280.6 L89.4,290.8 L90.2,299.5 L91.0,306.6 L91.8,312.4 L92.6,316.8 L93.4,320.2 L94.2,322.8 L95.0,324.6 L95.9,325.9 L96.7,326.8 L97.5,327.4 L98.3,327.8 L98.3,328.50 Z" fill="#d7af82" fill-opacity="0.14"/>
<path d="M61.2,327.9 L62.0,327.7 L62.8,327.4 L63.6,327.0 L64.4,326.4 L65.2,325.7 L66.0,324.8 L66.8,323.6 L67.6,322.2 L68.5,320.3 L69.3,318.0 L70.1,315.3 L70.9,311.9 L71.7,307.9 L72.5,303.2 L73.3,297.8 L74.1,291.5 L74.9,284.6 L75.7,276.9 L76.5,268.6 L77.3,259.8 L78.1,250.7 L78.9,241.5 L79.7,232.7 L80.5,224.5 L81.3,217.5 L82.2,212.1 L83.0,209.2 L83.1,209.1 L83.8,212.1 L84.6,220.1 L85.4,231.1 L86.2,243.6 L87.0,256.6 L87.8,269.1 L88.6,280.6 L89.4,290.8 L90.2,299.5 L91.0,306.6 L91.8,312.4 L92.6,316.8 L93.4,320.2 L94.2,322.8 L95.0,324.6 L95.9,325.9 L96.7,326.8 L97.5,327.4 L98.3,327.8" fill="none" stroke="#d7af82" stroke-opacity="0.5" stroke-width="0.8"/>
<path d="M63.6,328.50 L63.6,327.9 L64.4,327.7 L65.2,327.4 L66.0,327.0 L66.8,326.4 L67.6,325.7 L68.5,324.8 L69.3,323.6 L70.1,322.1 L70.9,320.3 L71.7,318.0 L72.5,315.2 L73.3,311.8 L74.1,307.8 L74.9,303.1 L75.7,297.6 L76.5,291.4 L77.3,284.4 L78.1,276.7 L78.9,268.4 L79.7,259.6 L80.5,250.5 L81.3,241.3 L82.2,232.5 L83.0,224.3 L83.8,217.3 L84.6,212.0 L85.4,209.2 L85.5,209.1 L86.2,212.2 L87.0,220.4 L87.8,231.4 L88.6,243.9 L89.4,256.8 L90.2,269.3 L91.0,280.9 L91.8,291.0 L92.6,299.6 L93.4,306.8 L94.2,312.5 L95.0,316.9 L95.9,320.3 L96.7,322.8 L97.5,324.6 L98.3,325.9 L99.1,326.8 L99.9,327.4 L100.7,327.8 L100.7,328.50 Z" fill="#826ec8" fill-opacity="0.14"/>
<path d="M63.6,327.9 L64.4,327.7 L65.2,327.4 L66.0,327.0 L66.8,326.4 L67.6,325.7 L68.5,324.8 L69.3,323.6 L70.1,322.1 L70.9,320.3 L71.7,318.0 L72.5,315.2 L73.3,311.8 L74.1,307.8 L74.9,303.1 L75.7,297.6 L76.5,291.4 L77.3,284.4 L78.1,276.7 L78.9,268.4 L79.7,259.6 L80.5,250.5 L81.3,241.3 L82.2,232.5 L83.0,224.3 L83.8,217.3 L84.6,212.0 L85.4,209.2 L85.5,209.1 L86.2,212.2 L87.0,220.4 L87.8,231.4 L88.6,243.9 L89.4,256.8 L90.2,269.3 L91.0,280.9 L91.8,291.0 L92.6,299.6 L93.4,306.8 L94.2,312.5 L95.0,316.9 L95.9,320.3 L96.7,322.8 L97.5,324.6 L98.3,325.9 L99.1,326.8 L99.9,327.4 L100.7,327.8" fill="none" stroke="#826ec8" stroke-opacity="0.5" stroke-width="0.8"/>
</g>
<rect x="33.30" y="197.10" width="138.00" height="131.50" fill="none" stroke="#9a9a9a" stroke-width="1"/>
<line x1="33.30" y1="328.50" x2="34.80" y2="328.50" stroke="#888" stroke-width="0.6"/>
<text class="s" transform="translate(29.50,328.50) rotate(-90)" text-anchor="middle" style="font-family:'Liberation Serif',serif;font-weight:bold;font-size:7.4px" fill="#222" stroke="#222">0</text>
<line x1="33.30" y1="304.62" x2="34.80" y2="304.62" stroke="#888" stroke-width="0.6"/>
<text class="s" transform="translate(29.50,304.62) rotate(-90)" text-anchor="middle" style="font-family:'Liberation Serif',serif;font-weight:bold;font-size:7.4px" fill="#222" stroke="#222">20</text>
<line x1="33.30" y1="280.74" x2="34.80" y2="280.74" stroke="#888" stroke-width="0.6"/>
<text class="s" transform="translate(29.50,280.74) rotate(-90)" text-anchor="middle" style="font-family:'Liberation Serif',serif;font-weight:bold;font-size:7.4px" fill="#222" stroke="#222">40</text>
<line x1="33.30" y1="256.86" x2="34.80" y2="256.86" stroke="#888" stroke-width="0.6"/>
<text class="s" transform="translate(29.50,256.86) rotate(-90)" text-anchor="middle" style="font-family:'Liberation Serif',serif;font-weight:bold;font-size:7.4px" fill="#222" stroke="#222">60</text>
<line x1="33.30" y1="232.98" x2="34.80" y2="232.98" stroke="#888" stroke-width="0.6"/>
<text class="s" transform="translate(29.50,232.98) rotate(-90)" text-anchor="middle" style="font-family:'Liberation Serif',serif;font-weight:bold;font-size:7.4px" fill="#222" stroke="#222">80</text>
<line x1="33.30" y1="209.10" x2="34.80" y2="209.10" stroke="#888" stroke-width="0.6"/>
<text class="s" transform="translate(29.50,209.10) rotate(-90)" text-anchor="middle" style="font-family:'Liberation Serif',serif;font-weight:bold;font-size:7.4px" fill="#222" stroke="#222">100</text>
<text class="s" transform="translate(17.90,262.10) rotate(-90)" text-anchor="middle" style="font-family:'Liberation Serif',serif;font-weight:bold;font-size:7.2px" fill="#222" stroke="#222">Count<tspan dx="3.3">(%)</tspan></text>
<text class="s" x="32.20" y="338.70" style="font-family:'Liberation Serif',serif;font-weight:bold;font-size:7.4px" fill="#222" stroke="#222">10<tspan dx="0.6" dy="-3.1" style="font-size:4.9px">2</tspan></text>
<text class="s" x="63.10" y="338.70" style="font-family:'Liberation Serif',serif;font-weight:bold;font-size:7.4px" fill="#222" stroke="#222">10<tspan dx="0.6" dy="-3.1" style="font-size:4.9px">3</tspan></text>
<text class="s" x="97.20" y="338.70" style="font-family:'Liberation Serif',serif;font-weight:bold;font-size:7.4px" fill="#222" stroke="#222">10<tspan dx="0.6" dy="-3.1" style="font-size:4.9px">4</tspan></text>
<text class="s" x="131.40" y="338.70" style="font-family:'Liberation Serif',serif;font-weight:bold;font-size:7.4px" fill="#222" stroke="#222">10<tspan dx="0.6" dy="-3.1" style="font-size:4.9px">5</tspan></text>
<text class="s" x="163.60" y="338.70" style="font-family:'Liberation Serif',serif;font-weight:bold;font-size:7.4px" fill="#222" stroke="#222">10<tspan dx="0.6" dy="-3.1" style="font-size:4.9px">6</tspan></text>
<text class="s" x="102.80" y="350.00" text-anchor="middle" style="font-family:'Liberation Serif',serif;font-weight:bold;font-size:7.2px" fill="#222" stroke="#222">PE-Cy7-H</text>
<line x1="91.60" y1="281.70" x2="171.30" y2="281.70" stroke="#7a7a7a" stroke-width="1"/>
<line x1="91.60" y1="280.50" x2="91.60" y2="282.90" stroke="#777" stroke-width="0.8"/>
<text x="163.50" y="215.10" text-anchor="end" style="font-family:'Liberation Serif',serif;font-weight:bold;font-size:10.1px" fill="#111" stroke="#111">Ac-P/IR820</text>
<g>
<path d="M206.8,328.50 L206.8,327.9 L207.6,327.6 L208.4,327.2 L209.2,326.8 L210.0,326.4 L210.8,326.0 L211.6,325.7 L212.5,325.6 L213.3,325.5 L214.1,325.6 L214.9,325.9 L215.7,326.3 L216.5,326.7 L217.3,326.3 L218.1,325.8 L218.9,325.1 L219.7,324.3 L220.5,323.4 L221.3,322.2 L222.1,320.9 L222.9,319.2 L223.7,317.3 L224.5,315.1 L225.3,312.5 L226.2,309.5 L227.0,306.0 L227.8,302.0 L228.6,297.6 L229.4,292.5 L230.2,286.9 L231.0,280.8 L231.8,274.1 L232.6,266.8 L233.4,259.2 L234.2,251.2 L235.0,242.9 L235.8,234.7 L236.6,226.8 L237.4,219.5 L238.2,213.4 L239.0,209.4 L239.2,209.1 L239.9,212.8 L240.7,221.1 L241.5,231.3 L242.3,242.2 L243.1,253.2 L243.9,263.7 L244.7,273.5 L245.5,282.5 L246.3,290.4 L247.1,297.3 L247.9,303.2 L248.7,308.2 L249.5,312.4 L250.3,315.8 L251.1,318.6 L251.9,320.8 L252.7,322.6 L253.6,324.0 L254.4,325.1 L255.2,326.0 L256.0,326.6 L256.8,327.1 L257.6,327.5 L258.4,327.8 L259.2,328.0 L259.2,328.50 Z" fill="#e6506e" fill-opacity="0.14"/>
<path d="M206.8,327.9 L207.6,327.6 L208.4,327.2 L209.2,326.8 L210.0,326.4 L210.8,326.0 L211.6,325.7 L212.5,325.6 L213.3,325.5 L214.1,325.6 L214.9,325.9 L215.7,326.3 L216.5,326.7 L217.3,326.3 L218.1,325.8 L218.9,325.1 L219.7,324.3 L220.5,323.4 L221.3,322.2 L222.1,320.9 L222.9,319.2 L223.7,317.3 L224.5,315.1 L225.3,312.5 L226.2,309.5 L227.0,306.0 L227.8,302.0 L228.6,297.6 L229.4,292.5 L230.2,286.9 L231.0,280.8 L231.8,274.1 L232.6,266.8 L233.4,259.2 L234.2,251.2 L235.0,242.9 L235.8,234.7 L236.6,226.8 L237.4,219.5 L238.2,213.4 L239.0,209.4 L239.2,209.1 L239.9,212.8 L240.7,221.1 L241.5,231.3 L242.3,242.2 L243.1,253.2 L243.9,263.7 L244.7,273.5 L245.5,282.5 L246.3,290.4 L247.1,297.3 L247.9,303.2 L248.7,308.2 L249.5,312.4 L250.3,315.8 L251.1,318.6 L251.9,320.8 L252.7,322.6 L253.6,324.0 L254.4,325.1 L255.2,326.0 L256.0,326.6 L256.8,327.1 L257.6,327.5 L258.4,327.8 L259.2,328.0" fill="none" stroke="#e6506e" stroke-opacity="0.5" stroke-width="0.8"/>
<path d="M236.6,328.50 L236.6,327.9 L237.4,327.6 L238.2,327.2 L239.0,326.7 L239.9,326.1 L240.7,325.2 L241.5,324.0 L242.3,322.4 L243.1,320.4 L243.9,317.9 L244.7,314.7 L245.5,310.7 L246.3,305.7 L247.1,299.8 L247.9,292.7 L248.7,284.4 L249.5,274.9 L250.3,264.4 L251.1,253.0 L251.9,241.1 L252.7,229.3 L253.6,218.7 L254.4,210.7 L254.7,209.1 L255.2,212.2 L256.0,222.7 L256.8,235.7 L257.6,249.5 L258.4,262.8 L259.2,275.0 L260.0,285.8 L260.8,295.0 L261.6,302.7 L262.4,308.9 L263.2,313.9 L264.0,317.7 L264.8,320.6 L265.6,322.9 L266.4,324.5 L267.3,325.7 L268.1,326.6 L268.9,327.2 L269.7,327.6 L270.5,327.9 L270.5,328.50 Z" fill="#64aa64" fill-opacity="0.14"/>
<path d="M236.6,327.9 L237.4,327.6 L238.2,327.2 L239.0,326.7 L239.9,326.1 L240.7,325.2 L241.5,324.0 L242.3,322.4 L243.1,320.4 L243.9,317.9 L244.7,314.7 L245.5,310.7 L246.3,305.7 L247.1,299.8 L247.9,292.7 L248.7,284.4 L249.5,274.9 L250.3,264.4 L251.1,253.0 L251.9,241.1 L252.7,229.3 L253.6,218.7 L254.4,210.7 L254.7,209.1 L255.2,212.2 L256.0,222.7 L256.8,235.7 L257.6,249.5 L258.4,262.8 L259.2,275.0 L260.0,285.8 L260.8,295.0 L261.6,302.7 L262.4,308.9 L263.2,313.9 L264.0,317.7 L264.8,320.6 L265.6,322.9 L266.4,324.5 L267.3,325.7 L268.1,326.6 L268.9,327.2 L269.7,327.6 L270.5,327.9" fill="none" stroke="#64aa64" stroke-opacity="0.5" stroke-width="0.8"/>
<path d="M243.1,328.50 L243.1,327.9 L243.9,327.7 L244.7,327.4 L245.5,326.9 L246.3,326.3 L247.1,325.5 L247.9,324.4 L248.7,323.0 L249.5,321.1 L250.3,318.8 L251.1,315.8 L251.9,312.0 L252.7,307.4 L253.6,301.7 L254.4,295.0 L255.2,287.1 L256.0,278.0 L256.8,267.8 L257.6,256.6 L258.4,244.8 L259.2,233.0 L260.0,221.8 L260.8,212.8 L261.4,209.1 L261.6,210.1 L262.4,219.0 L263.2,231.5 L264.0,245.2 L264.8,258.7 L265.6,271.3 L266.4,282.6 L267.3,292.3 L268.1,300.5 L268.9,307.1 L269.7,312.4 L270.5,316.6 L271.3,319.8 L272.1,322.2 L272.9,324.0 L273.7,325.4 L274.5,326.3 L275.3,327.0 L276.1,327.5 L276.9,327.8 L276.9,328.50 Z" fill="#5a64dc" fill-opacity="0.14"/>
<path d="M243.1,327.9 L243.9,327.7 L244.7,327.4 L245.5,326.9 L246.3,326.3 L247.1,325.5 L247.9,324.4 L248.7,323.0 L249.5,321.1 L250.3,318.8 L251.1,315.8 L251.9,312.0 L252.7,307.4 L253.6,301.7 L254.4,295.0 L255.2,287.1 L256.0,278.0 L256.8,267.8 L257.6,256.6 L258.4,244.8 L259.2,233.0 L260.0,221.8 L260.8,212.8 L261.4,209.1 L261.6,210.1 L262.4,219.0 L263.2,231.5 L264.0,245.2 L264.8,258.7 L265.6,271.3 L266.4,282.6 L267.3,292.3 L268.1,300.5 L268.9,307.1 L269.7,312.4 L270.5,316.6 L271.3,319.8 L272.1,322.2 L272.9,324.0 L273.7,325.4 L274.5,326.3 L275.3,327.0 L276.1,327.5 L276.9,327.8" fill="none" stroke="#5a64dc" stroke-opacity="0.5" stroke-width="0.8"/>
<path d="M246.3,328.50 L246.3,328.0 L247.1,327.8 L247.9,327.5 L248.7,327.1 L249.5,326.6 L250.3,325.9 L251.1,324.9 L251.9,323.7 L252.7,322.0 L253.6,319.9 L254.4,317.2 L255.2,313.9 L256.0,309.7 L256.8,304.5 L257.6,298.3 L258.4,290.9 L259.2,282.4 L260.0,272.7 L260.8,261.9 L261.6,250.4 L262.4,238.5 L263.2,226.9 L264.0,216.6 L264.8,209.6 L265.0,209.1 L265.6,214.2 L266.4,225.4 L267.3,238.7 L268.1,252.5 L268.9,265.6 L269.7,277.5 L270.5,288.0 L271.3,296.9 L272.1,304.2 L272.9,310.1 L273.7,314.8 L274.5,318.4 L275.3,321.2 L276.1,323.3 L276.9,324.8 L277.7,325.9 L278.5,326.7 L279.3,327.3 L280.1,327.7 L281.0,327.9 L281.0,328.50 Z" fill="#e6828c" fill-opacity="0.14"/>
<path d="M246.3,328.0 L247.1,327.8 L247.9,327.5 L248.7,327.1 L249.5,326.6 L250.3,325.9 L251.1,324.9 L251.9,323.7 L252.7,322.0 L253.6,319.9 L254.4,317.2 L255.2,313.9 L256.0,309.7 L256.8,304.5 L257.6,298.3 L258.4,290.9 L259.2,282.4 L260.0,272.7 L260.8,261.9 L261.6,250.4 L262.4,238.5 L263.2,226.9 L264.0,216.6 L264.8,209.6 L265.0,209.1 L265.6,214.2 L266.4,225.4 L267.3,238.7 L268.1,252.5 L268.9,265.6 L269.7,277.5 L270.5,288.0 L271.3,296.9 L272.1,304.2 L272.9,310.1 L273.7,314.8 L274.5,318.4 L275.3,321.2 L276.1,323.3 L276.9,324.8 L277.7,325.9 L278.5,326.7 L279.3,327.3 L280.1,327.7 L281.0,327.9" fill="none" stroke="#e6828c" stroke-opacity="0.5" stroke-width="0.8"/>
<path d="M248.7,328.50 L248.7,327.9 L249.5,327.7 L250.3,327.3 L251.1,326.9 L251.9,326.3 L252.7,325.4 L253.6,324.3 L254.4,322.9 L255.2,321.0 L256.0,318.6 L256.8,315.6 L257.6,311.8 L258.4,307.1 L259.2,301.4 L260.0,294.6 L260.8,286.7 L261.6,277.5 L262.4,267.2 L263.2,256.0 L264.0,244.2 L264.8,232.4 L265.6,221.3 L266.4,212.4 L267.0,209.1 L267.3,210.4 L268.1,219.6 L268.9,232.2 L269.7,245.9 L270.5,259.4 L271.3,271.9 L272.1,283.1 L272.9,292.8 L273.7,300.8 L274.5,307.4 L275.3,312.7 L276.1,316.8 L276.9,319.9 L277.7,322.3 L278.5,324.1 L279.3,325.4 L280.1,326.4 L281.0,327.0 L281.8,327.5 L282.6,327.8 L282.6,328.50 Z" fill="#d7af82" fill-opacity="0.14"/>
<path d="M248.7,327.9 L249.5,327.7 L250.3,327.3 L251.1,326.9 L251.9,326.3 L252.7,325.4 L253.6,324.3 L254.4,322.9 L255.2,321.0 L256.0,318.6 L256.8,315.6 L257.6,311.8 L258.4,307.1 L259.2,301.4 L260.0,294.6 L260.8,286.7 L261.6,277.5 L262.4,267.2 L263.2,256.0 L264.0,244.2 L264.8,232.4 L265.6,221.3 L266.4,212.4 L267.0,209.1 L267.3,210.4 L268.1,219.6 L268.9,232.2 L269.7,245.9 L270.5,259.4 L271.3,271.9 L272.1,283.1 L272.9,292.8 L273.7,300.8 L274.5,307.4 L275.3,312.7 L276.1,316.8 L276.9,319.9 L277.7,322.3 L278.5,324.1 L279.3,325.4 L280.1,326.4 L281.0,327.0 L281.8,327.5 L282.6,327.8" fill="none" stroke="#d7af82" stroke-opacity="0.5" stroke-width="0.8"/>
<path d="M251.9,328.50 L251.9,328.0 L252.7,327.8 L253.6,327.5 L254.4,327.1 L255.2,326.5 L256.0,325.7 L256.8,324.7 L257.6,323.4 L258.4,321.7 L259.2,319.5 L260.0,316.7 L260.8,313.2 L261.6,308.8 L262.4,303.5 L263.2,297.1 L264.0,289.5 L264.8,280.8 L265.6,270.9 L266.4,260.0 L267.3,248.3 L268.1,236.4 L268.9,224.9 L269.7,215.1 L270.5,209.1 L270.5,209.1 L271.3,215.9 L272.1,227.6 L272.9,241.1 L273.7,254.8 L274.5,267.8 L275.3,279.5 L276.1,289.7 L276.9,298.2 L277.7,305.3 L278.5,311.0 L279.3,315.5 L280.1,319.0 L281.0,321.6 L281.8,323.6 L282.6,325.0 L283.4,326.1 L284.2,326.8 L285.0,327.4 L285.8,327.7 L286.6,328.0 L286.6,328.50 Z" fill="#826ec8" fill-opacity="0.14"/>
<path d="M251.9,328.0 L252.7,327.8 L253.6,327.5 L254.4,327.1 L255.2,326.5 L256.0,325.7 L256.8,324.7 L257.6,323.4 L258.4,321.7 L259.2,319.5 L260.0,316.7 L260.8,313.2 L261.6,308.8 L262.4,303.5 L263.2,297.1 L264.0,289.5 L264.8,280.8 L265.6,270.9 L266.4,260.0 L267.3,248.3 L268.1,236.4 L268.9,224.9 L269.7,215.1 L270.5,209.1 L270.5,209.1 L271.3,215.9 L272.1,227.6 L272.9,241.1 L273.7,254.8 L274.5,267.8 L275.3,279.5 L276.1,289.7 L276.9,298.2 L277.7,305.3 L278.5,311.0 L279.3,315.5 L280.1,319.0 L281.0,321.6 L281.8,323.6 L282.6,325.0 L283.4,326.1 L284.2,326.8 L285.0,327.4 L285.8,327.7 L286.6,328.0" fill="none" stroke="#826ec8" stroke-opacity="0.5" stroke-width="0.8"/>
</g>
<rect x="204.70" y="197.10" width="138.00" height="131.50" fill="none" stroke="#9a9a9a" stroke-width="1"/>
<line x1="204.70" y1="328.50" x2="206.20" y2="328.50" stroke="#888" stroke-width="0.6"/>
<text class="s" transform="translate(200.90,328.50) rotate(-90)" text-anchor="middle" style="font-family:'Liberation Serif',serif;font-weight:bold;font-size:7.4px" fill="#222" stroke="#222">0</text>
<line x1="204.70" y1="304.62" x2="206.20" y2="304.62" stroke="#888" stroke-width="0.6"/>
<text class="s" transform="translate(200.90,304.62) rotate(-90)" text-anchor="middle" style="font-family:'Liberation Serif',serif;font-weight:bold;font-size:7.4px" fill="#222" stroke="#222">20</text>
<line x1="204.70" y1="280.74" x2="206.20" y2="280.74" stroke="#888" stroke-width="0.6"/>
<text class="s" transform="translate(200.90,280.74) rotate(-90)" text-anchor="middle" style="font-family:'Liberation Serif',serif;font-weight:bold;font-size:7.4px" fill="#222" stroke="#222">40</text>
<line x1="204.70" y1="256.86" x2="206.20" y2="256.86" stroke="#888" stroke-width="0.6"/>
<text class="s" transform="translate(200.90,256.86) rotate(-90)" text-anchor="middle" style="font-family:'Liberation Serif',serif;font-weight:bold;font-size:7.4px" fill="#222" stroke="#222">60</text>
<line x1="204.70" y1="232.98" x2="206.20" y2="232.98" stroke="#888" stroke-width="0.6"/>
<text class="s" transform="translate(200.90,232.98) rotate(-90)" text-anchor="middle" style="font-family:'Liberation Serif',serif;font-weight:bold;font-size:7.4px" fill="#222" stroke="#222">80</text>
<line x1="204.70" y1="209.10" x2="206.20" y2="209.10" stroke="#888" stroke-width="0.6"/>
<text class="s" transform="translate(200.90,209.10) rotate(-90)" text-anchor="middle" style="font-family:'Liberation Serif',serif;font-weight:bold;font-size:7.4px" fill="#222" stroke="#222">100</text>
<text class="s" transform="translate(189.30,262.10) rotate(-90)" text-anchor="middle" style="font-family:'Liberation Serif',serif;font-weight:bold;font-size:7.2px" fill="#222" stroke="#222">Count<tspan dx="3.3">(%)</tspan></text>
<text class="s" x="203.60" y="338.70" style="font-family:'Liberation Serif',serif;font-weight:bold;font-size:7.4px" fill="#222" stroke="#222">10<tspan dx="0.6" dy="-3.1" style="font-size:4.9px">2</tspan></text>
<text class="s" x="234.50" y="338.70" style="font-family:'Liberation Serif',serif;font-weight:bold;font-size:7.4px" fill="#222" stroke="#222">10<tspan dx="0.6" dy="-3.1" style="font-size:4.9px">3</tspan></text>
<text class="s" x="268.60" y="338.70" style="font-family:'Liberation Serif',serif;font-weight:bold;font-size:7.4px" fill="#222" stroke="#222">10<tspan dx="0.6" dy="-3.1" style="font-size:4.9px">4</tspan></text>
<text class="s" x="302.80" y="338.70" style="font-family:'Liberation Serif',serif;font-weight:bold;font-size:7.4px" fill="#222" stroke="#222">10<tspan dx="0.6" dy="-3.1" style="font-size:4.9px">5</tspan></text>
<text class="s" x="335.00" y="338.70" style="font-family:'Liberation Serif',serif;font-weight:bold;font-size:7.4px" fill="#222" stroke="#222">10<tspan dx="0.6" dy="-3.1" style="font-size:4.9px">6</tspan></text>
<text class="s" x="274.20" y="350.00" text-anchor="middle" style="font-family:'Liberation Serif',serif;font-weight:bold;font-size:7.2px" fill="#222" stroke="#222">PE-Cy7-H</text>
<line x1="263.70" y1="281.20" x2="342.70" y2="281.20" stroke="#7a7a7a" stroke-width="1"/>
<line x1="263.70" y1="280.00" x2="263.70" y2="282.40" stroke="#777" stroke-width="0.8"/>
<text x="336.40" y="215.10" text-anchor="end" style="font-family:'Liberation Serif',serif;font-weight:bold;font-size:10.1px" fill="#111" stroke="#111">Ac-PR/IR820</text>
<g>
<path d="M42.7,508.90 L42.7,508.3 L43.5,508.2 L44.3,508.1 L45.1,507.9 L45.9,507.6 L46.7,507.4 L47.5,507.0 L48.3,506.6 L49.1,506.2 L49.9,505.6 L50.7,504.9 L51.5,504.1 L52.3,503.1 L53.1,502.0 L53.9,500.7 L54.8,499.1 L55.6,497.3 L56.4,495.2 L57.2,492.7 L58.0,489.9 L58.8,486.6 L59.6,482.8 L60.4,478.6 L61.2,473.7 L62.0,468.3 L62.8,462.2 L63.6,455.4 L64.4,448.0 L65.2,440.0 L66.0,431.4 L66.8,422.3 L67.6,413.0 L68.5,403.7 L69.3,395.3 L69.9,390.6 L70.1,391.6 L70.9,400.0 L71.7,410.2 L72.5,420.8 L73.3,431.2 L74.1,441.0 L74.9,450.0 L75.7,458.2 L76.5,465.5 L77.3,472.0 L78.1,477.6 L78.9,482.6 L79.7,486.8 L80.5,490.5 L81.3,493.6 L82.2,496.2 L83.0,498.5 L83.8,500.3 L84.6,501.9 L85.4,503.2 L86.2,504.2 L87.0,505.1 L87.8,505.8 L88.6,506.4 L89.4,506.9 L90.2,507.3 L91.0,507.6 L91.8,507.9 L92.6,508.1 L93.4,508.3 L94.2,508.4 L94.2,508.90 Z" fill="#e6506e" fill-opacity="0.14"/>
<path d="M42.7,508.3 L43.5,508.2 L44.3,508.1 L45.1,507.9 L45.9,507.6 L46.7,507.4 L47.5,507.0 L48.3,506.6 L49.1,506.2 L49.9,505.6 L50.7,504.9 L51.5,504.1 L52.3,503.1 L53.1,502.0 L53.9,500.7 L54.8,499.1 L55.6,497.3 L56.4,495.2 L57.2,492.7 L58.0,489.9 L58.8,486.6 L59.6,482.8 L60.4,478.6 L61.2,473.7 L62.0,468.3 L62.8,462.2 L63.6,455.4 L64.4,448.0 L65.2,440.0 L66.0,431.4 L66.8,422.3 L67.6,413.0 L68.5,403.7 L69.3,395.3 L69.9,390.6 L70.1,391.6 L70.9,400.0 L71.7,410.2 L72.5,420.8 L73.3,431.2 L74.1,441.0 L74.9,450.0 L75.7,458.2 L76.5,465.5 L77.3,472.0 L78.1,477.6 L78.9,482.6 L79.7,486.8 L80.5,490.5 L81.3,493.6 L82.2,496.2 L83.0,498.5 L83.8,500.3 L84.6,501.9 L85.4,503.2 L86.2,504.2 L87.0,505.1 L87.8,505.8 L88.6,506.4 L89.4,506.9 L90.2,507.3 L91.0,507.6 L91.8,507.9 L92.6,508.1 L93.4,508.3 L94.2,508.4" fill="none" stroke="#e6506e" stroke-opacity="0.5" stroke-width="0.8"/>
<path d="M49.9,508.90 L49.9,508.4 L50.7,508.3 L51.5,508.2 L52.3,508.0 L53.1,507.8 L53.9,507.6 L54.8,507.3 L55.6,507.0 L56.4,506.5 L57.2,506.1 L58.0,505.5 L58.8,504.8 L59.6,503.9 L60.4,502.9 L61.2,501.8 L62.0,500.4 L62.8,498.8 L63.6,496.9 L64.4,494.7 L65.2,492.2 L66.0,489.3 L66.8,485.9 L67.6,482.0 L68.5,477.7 L69.3,472.7 L70.1,467.1 L70.9,460.9 L71.7,454.0 L72.5,446.5 L73.3,438.3 L74.1,429.6 L74.9,420.4 L75.7,411.1 L76.5,402.0 L77.3,393.9 L77.8,390.6 L78.1,392.2 L78.9,400.8 L79.7,412.3 L80.5,424.9 L81.3,437.4 L82.2,449.3 L83.0,460.0 L83.8,469.5 L84.6,477.6 L85.4,484.4 L86.2,489.9 L87.0,494.4 L87.8,498.0 L88.6,500.8 L89.4,502.9 L90.2,504.5 L91.0,505.8 L91.8,506.7 L92.6,507.3 L93.4,507.8 L94.2,508.1 L95.0,508.4 L95.0,508.90 Z" fill="#64aa64" fill-opacity="0.14"/>
<path d="M49.9,508.4 L50.7,508.3 L51.5,508.2 L52.3,508.0 L53.1,507.8 L53.9,507.6 L54.8,507.3 L55.6,507.0 L56.4,506.5 L57.2,506.1 L58.0,505.5 L58.8,504.8 L59.6,503.9 L60.4,502.9 L61.2,501.8 L62.0,500.4 L62.8,498.8 L63.6,496.9 L64.4,494.7 L65.2,492.2 L66.0,489.3 L66.8,485.9 L67.6,482.0 L68.5,477.7 L69.3,472.7 L70.1,467.1 L70.9,460.9 L71.7,454.0 L72.5,446.5 L73.3,438.3 L74.1,429.6 L74.9,420.4 L75.7,411.1 L76.5,402.0 L77.3,393.9 L77.8,390.6 L78.1,392.2 L78.9,400.8 L79.7,412.3 L80.5,424.9 L81.3,437.4 L82.2,449.3 L83.0,460.0 L83.8,469.5 L84.6,477.6 L85.4,484.4 L86.2,489.9 L87.0,494.4 L87.8,498.0 L88.6,500.8 L89.4,502.9 L90.2,504.5 L91.0,505.8 L91.8,506.7 L92.6,507.3 L93.4,507.8 L94.2,508.1 L95.0,508.4" fill="none" stroke="#64aa64" stroke-opacity="0.5" stroke-width="0.8"/>
<path d="M57.2,508.90 L57.2,508.3 L58.0,508.2 L58.8,508.1 L59.6,507.9 L60.4,507.7 L61.2,507.4 L62.0,507.1 L62.8,506.7 L63.6,506.2 L64.4,505.7 L65.2,505.0 L66.0,504.2 L66.8,503.3 L67.6,502.2 L68.5,500.9 L69.3,499.3 L70.1,497.5 L70.9,495.4 L71.7,493.0 L72.5,490.2 L73.3,487.0 L74.1,483.3 L74.9,479.1 L75.7,474.3 L76.5,468.9 L77.3,462.9 L78.1,456.3 L78.9,448.9 L79.7,441.0 L80.5,432.4 L81.3,423.4 L82.2,414.0 L83.0,404.8 L83.8,396.2 L84.5,390.6 L84.6,390.8 L85.4,397.7 L86.2,408.6 L87.0,420.9 L87.8,433.6 L88.6,445.7 L89.4,456.8 L90.2,466.7 L91.0,475.2 L91.8,482.4 L92.6,488.3 L93.4,493.1 L94.2,497.0 L95.0,500.0 L95.9,502.3 L96.7,504.1 L97.5,505.4 L98.3,506.4 L99.1,507.1 L99.9,507.7 L100.7,508.0 L101.5,508.3 L101.5,508.90 Z" fill="#5a64dc" fill-opacity="0.14"/>
<path d="M57.2,508.3 L58.0,508.2 L58.8,508.1 L59.6,507.9 L60.4,507.7 L61.2,507.4 L62.0,507.1 L62.8,506.7 L63.6,506.2 L64.4,505.7 L65.2,505.0 L66.0,504.2 L66.8,503.3 L67.6,502.2 L68.5,500.9 L69.3,499.3 L70.1,497.5 L70.9,495.4 L71.7,493.0 L72.5,490.2 L73.3,487.0 L74.1,483.3 L74.9,479.1 L75.7,474.3 L76.5,468.9 L77.3,462.9 L78.1,456.3 L78.9,448.9 L79.7,441.0 L80.5,432.4 L81.3,423.4 L82.2,414.0 L83.0,404.8 L83.8,396.2 L84.5,390.6 L84.6,390.8 L85.4,397.7 L86.2,408.6 L87.0,420.9 L87.8,433.6 L88.6,445.7 L89.4,456.8 L90.2,466.7 L91.0,475.2 L91.8,482.4 L92.6,488.3 L93.4,493.1 L94.2,497.0 L95.0,500.0 L95.9,502.3 L96.7,504.1 L97.5,505.4 L98.3,506.4 L99.1,507.1 L99.9,507.7 L100.7,508.0 L101.5,508.3" fill="none" stroke="#5a64dc" stroke-opacity="0.5" stroke-width="0.8"/>
<path d="M59.6,508.90 L59.6,508.4 L60.4,508.3 L61.2,508.1 L62.0,508.0 L62.8,507.8 L63.6,507.5 L64.4,507.2 L65.2,506.9 L66.0,506.4 L66.8,505.9 L67.6,505.3 L68.5,504.6 L69.3,503.7 L70.1,502.7 L70.9,501.5 L71.7,500.1 L72.5,498.4 L73.3,496.5 L74.1,494.2 L74.9,491.6 L75.7,488.6 L76.5,485.1 L77.3,481.2 L78.1,476.7 L78.9,471.6 L79.7,465.9 L80.5,459.5 L81.3,452.5 L82.2,444.8 L83.0,436.5 L83.8,427.7 L84.6,418.5 L85.4,409.1 L86.2,400.2 L87.0,392.5 L87.3,390.6 L87.8,393.7 L88.6,403.1 L89.4,415.0 L90.2,427.6 L91.0,440.0 L91.8,451.7 L92.6,462.1 L93.4,471.3 L94.2,479.1 L95.0,485.7 L95.9,491.0 L96.7,495.3 L97.5,498.6 L98.3,501.3 L99.1,503.3 L99.9,504.8 L100.7,506.0 L101.5,506.8 L102.3,507.4 L103.1,507.9 L103.9,508.2 L104.7,508.4 L104.7,508.90 Z" fill="#e6828c" fill-opacity="0.14"/>
<path d="M59.6,508.4 L60.4,508.3 L61.2,508.1 L62.0,508.0 L62.8,507.8 L63.6,507.5 L64.4,507.2 L65.2,506.9 L66.0,506.4 L66.8,505.9 L67.6,505.3 L68.5,504.6 L69.3,503.7 L70.1,502.7 L70.9,501.5 L71.7,500.1 L72.5,498.4 L73.3,496.5 L74.1,494.2 L74.9,491.6 L75.7,488.6 L76.5,485.1 L77.3,481.2 L78.1,476.7 L78.9,471.6 L79.7,465.9 L80.5,459.5 L81.3,452.5 L82.2,444.8 L83.0,436.5 L83.8,427.7 L84.6,418.5 L85.4,409.1 L86.2,400.2 L87.0,392.5 L87.3,390.6 L87.8,393.7 L88.6,403.1 L89.4,415.0 L90.2,427.6 L91.0,440.0 L91.8,451.7 L92.6,462.1 L93.4,471.3 L94.2,479.1 L95.0,485.7 L95.9,491.0 L96.7,495.3 L97.5,498.6 L98.3,501.3 L99.1,503.3 L99.9,504.8 L100.7,506.0 L101.5,506.8 L102.3,507.4 L103.1,507.9 L103.9,508.2 L104.7,508.4" fill="none" stroke="#e6828c" stroke-opacity="0.5" stroke-width="0.8"/>
<path d="M62.8,508.90 L62.8,508.4 L63.6,508.2 L64.4,508.1 L65.2,507.9 L66.0,507.7 L66.8,507.4 L67.6,507.1 L68.5,506.7 L69.3,506.3 L70.1,505.7 L70.9,505.0 L71.7,504.3 L72.5,503.3 L73.3,502.2 L74.1,501.0 L74.9,499.4 L75.7,497.7 L76.5,495.6 L77.3,493.2 L78.1,490.4 L78.9,487.2 L79.7,483.6 L80.5,479.4 L81.3,474.7 L82.2,469.4 L83.0,463.4 L83.8,456.8 L84.6,449.5 L85.4,441.6 L86.2,433.0 L87.0,424.0 L87.8,414.7 L88.6,405.5 L89.4,396.8 L90.2,390.6 L90.2,390.6 L91.0,397.0 L91.8,407.7 L92.6,420.0 L93.4,432.6 L94.2,444.8 L95.0,456.0 L95.9,466.0 L96.7,474.6 L97.5,481.9 L98.3,487.9 L99.1,492.8 L99.9,496.7 L100.7,499.8 L101.5,502.2 L102.3,504.0 L103.1,505.3 L103.9,506.3 L104.7,507.1 L105.5,507.6 L106.3,508.0 L107.1,508.3 L107.1,508.90 Z" fill="#d7af82" fill-opacity="0.14"/>
<path d="M62.8,508.4 L63.6,508.2 L64.4,508.1 L65.2,507.9 L66.0,507.7 L66.8,507.4 L67.6,507.1 L68.5,506.7 L69.3,506.3 L70.1,505.7 L70.9,505.0 L71.7,504.3 L72.5,503.3 L73.3,502.2 L74.1,501.0 L74.9,499.4 L75.7,497.7 L76.5,495.6 L77.3,493.2 L78.1,490.4 L78.9,487.2 L79.7,483.6 L80.5,479.4 L81.3,474.7 L82.2,469.4 L83.0,463.4 L83.8,456.8 L84.6,449.5 L85.4,441.6 L86.2,433.0 L87.0,424.0 L87.8,414.7 L88.6,405.5 L89.4,396.8 L90.2,390.6 L90.2,390.6 L91.0,397.0 L91.8,407.7 L92.6,420.0 L93.4,432.6 L94.2,444.8 L95.0,456.0 L95.9,466.0 L96.7,474.6 L97.5,481.9 L98.3,487.9 L99.1,492.8 L99.9,496.7 L100.7,499.8 L101.5,502.2 L102.3,504.0 L103.1,505.3 L103.9,506.3 L104.7,507.1 L105.5,507.6 L106.3,508.0 L107.1,508.3" fill="none" stroke="#d7af82" stroke-opacity="0.5" stroke-width="0.8"/>
<path d="M67.6,508.90 L67.6,508.3 L68.5,508.2 L69.3,508.0 L70.1,507.8 L70.9,507.6 L71.7,507.3 L72.5,507.0 L73.3,506.6 L74.1,506.1 L74.9,505.5 L75.7,504.8 L76.5,504.0 L77.3,503.0 L78.1,501.9 L78.9,500.5 L79.7,499.0 L80.5,497.1 L81.3,494.9 L82.2,492.4 L83.0,489.6 L83.8,486.2 L84.6,482.4 L85.4,478.1 L86.2,473.2 L87.0,467.7 L87.8,461.5 L88.6,454.7 L89.4,447.2 L90.2,439.1 L91.0,430.4 L91.8,421.3 L92.6,412.0 L93.4,402.8 L94.2,394.6 L94.8,390.6 L95.0,390.8 L95.9,395.0 L96.7,403.8 L97.5,416.2 L98.3,430.6 L99.1,445.7 L99.9,460.1 L100.7,472.9 L101.5,483.5 L102.3,491.7 L103.1,497.8 L103.9,502.0 L104.7,504.8 L105.5,506.6 L106.3,507.7 L107.1,508.3 L107.1,508.90 Z" fill="#826ec8" fill-opacity="0.14"/>
<path d="M67.6,508.3 L68.5,508.2 L69.3,508.0 L70.1,507.8 L70.9,507.6 L71.7,507.3 L72.5,507.0 L73.3,506.6 L74.1,506.1 L74.9,505.5 L75.7,504.8 L76.5,504.0 L77.3,503.0 L78.1,501.9 L78.9,500.5 L79.7,499.0 L80.5,497.1 L81.3,494.9 L82.2,492.4 L83.0,489.6 L83.8,486.2 L84.6,482.4 L85.4,478.1 L86.2,473.2 L87.0,467.7 L87.8,461.5 L88.6,454.7 L89.4,447.2 L90.2,439.1 L91.0,430.4 L91.8,421.3 L92.6,412.0 L93.4,402.8 L94.2,394.6 L94.8,390.6 L95.0,390.8 L95.9,395.0 L96.7,403.8 L97.5,416.2 L98.3,430.6 L99.1,445.7 L99.9,460.1 L100.7,472.9 L101.5,483.5 L102.3,491.7 L103.1,497.8 L103.9,502.0 L104.7,504.8 L105.5,506.6 L106.3,507.7 L107.1,508.3" fill="none" stroke="#826ec8" stroke-opacity="0.5" stroke-width="0.8"/>
</g>
<rect x="33.30" y="378.20" width="138.00" height="130.80" fill="none" stroke="#9a9a9a" stroke-width="1"/>
<line x1="33.30" y1="508.90" x2="34.80" y2="508.90" stroke="#888" stroke-width="0.6"/>
<text class="s" transform="translate(29.50,508.90) rotate(-90)" text-anchor="middle" style="font-family:'Liberation Serif',serif;font-weight:bold;font-size:7.4px" fill="#222" stroke="#222">0</text>
<line x1="33.30" y1="485.24" x2="34.80" y2="485.24" stroke="#888" stroke-width="0.6"/>
<text class="s" transform="translate(29.50,485.24) rotate(-90)" text-anchor="middle" style="font-family:'Liberation Serif',serif;font-weight:bold;font-size:7.4px" fill="#222" stroke="#222">20</text>
<line x1="33.30" y1="461.58" x2="34.80" y2="461.58" stroke="#888" stroke-width="0.6"/>
<text class="s" transform="translate(29.50,461.58) rotate(-90)" text-anchor="middle" style="font-family:'Liberation Serif',serif;font-weight:bold;font-size:7.4px" fill="#222" stroke="#222">40</text>
<line x1="33.30" y1="437.92" x2="34.80" y2="437.92" stroke="#888" stroke-width="0.6"/>
<text class="s" transform="translate(29.50,437.92) rotate(-90)" text-anchor="middle" style="font-family:'Liberation Serif',serif;font-weight:bold;font-size:7.4px" fill="#222" stroke="#222">60</text>
<line x1="33.30" y1="414.26" x2="34.80" y2="414.26" stroke="#888" stroke-width="0.6"/>
<text class="s" transform="translate(29.50,414.26) rotate(-90)" text-anchor="middle" style="font-family:'Liberation Serif',serif;font-weight:bold;font-size:7.4px" fill="#222" stroke="#222">80</text>
<line x1="33.30" y1="390.60" x2="34.80" y2="390.60" stroke="#888" stroke-width="0.6"/>
<text class="s" transform="translate(29.50,390.60) rotate(-90)" text-anchor="middle" style="font-family:'Liberation Serif',serif;font-weight:bold;font-size:7.4px" fill="#222" stroke="#222">100</text>
<text class="s" transform="translate(17.90,443.20) rotate(-90)" text-anchor="middle" style="font-family:'Liberation Serif',serif;font-weight:bold;font-size:7.2px" fill="#222" stroke="#222">Count<tspan dx="3.3">(%)</tspan></text>
<text class="s" x="32.20" y="518.50" style="font-family:'Liberation Serif',serif;font-weight:bold;font-size:7.4px" fill="#222" stroke="#222">10<tspan dx="0.6" dy="-3.1" style="font-size:4.9px">2</tspan></text>
<text class="s" x="63.10" y="518.50" style="font-family:'Liberation Serif',serif;font-weight:bold;font-size:7.4px" fill="#222" stroke="#222">10<tspan dx="0.6" dy="-3.1" style="font-size:4.9px">3</tspan></text>
<text class="s" x="97.20" y="518.50" style="font-family:'Liberation Serif',serif;font-weight:bold;font-size:7.4px" fill="#222" stroke="#222">10<tspan dx="0.6" dy="-3.1" style="font-size:4.9px">4</tspan></text>
<text class="s" x="131.40" y="518.50" style="font-family:'Liberation Serif',serif;font-weight:bold;font-size:7.4px" fill="#222" stroke="#222">10<tspan dx="0.6" dy="-3.1" style="font-size:4.9px">5</tspan></text>
<text class="s" x="163.60" y="518.50" style="font-family:'Liberation Serif',serif;font-weight:bold;font-size:7.4px" fill="#222" stroke="#222">10<tspan dx="0.6" dy="-3.1" style="font-size:4.9px">6</tspan></text>
<text class="s" x="102.80" y="531.10" text-anchor="middle" style="font-family:'Liberation Serif',serif;font-weight:bold;font-size:7.2px" fill="#222" stroke="#222">PE-Cy7-H</text>
<line x1="96.80" y1="462.60" x2="171.30" y2="462.60" stroke="#7a7a7a" stroke-width="1"/>
<line x1="96.80" y1="461.40" x2="96.80" y2="463.80" stroke="#777" stroke-width="0.8"/>
<text x="153.70" y="397.10" text-anchor="end" style="font-family:'Liberation Serif',serif;font-weight:bold;font-size:9.8px" fill="#111" stroke="#111">3 h-block</text>
<g>
<path d="M206.0,508.90 L206.0,508.3 L206.8,508.1 L207.6,507.9 L208.4,507.7 L209.2,507.4 L210.0,507.1 L210.8,506.8 L211.6,506.5 L212.5,506.3 L213.3,506.1 L214.1,506.0 L214.9,505.9 L215.7,506.0 L216.5,506.1 L217.3,506.2 L218.1,506.5 L218.9,506.7 L219.7,506.5 L220.5,505.9 L221.3,505.2 L222.1,504.4 L222.9,503.4 L223.7,502.2 L224.5,500.8 L225.3,499.1 L226.2,497.1 L227.0,494.8 L227.8,492.1 L228.6,489.0 L229.4,485.4 L230.2,481.4 L231.0,476.8 L231.8,471.8 L232.6,466.1 L233.4,459.9 L234.2,453.2 L235.0,446.0 L235.8,438.4 L236.6,430.5 L237.4,422.5 L238.2,414.5 L239.0,406.8 L239.9,399.8 L240.7,394.0 L241.5,390.6 L241.5,390.6 L242.3,395.0 L243.1,403.1 L243.9,412.8 L244.7,423.1 L245.5,433.5 L246.3,443.5 L247.1,452.9 L247.9,461.5 L248.7,469.3 L249.5,476.1 L250.3,482.0 L251.1,487.0 L251.9,491.3 L252.7,494.8 L253.6,497.7 L254.4,500.1 L255.2,502.0 L256.0,503.6 L256.8,504.8 L257.6,505.8 L258.4,506.5 L259.2,507.1 L260.0,507.6 L260.8,507.9 L261.6,508.2 L262.4,508.4 L262.4,508.90 Z" fill="#e6506e" fill-opacity="0.14"/>
<path d="M206.0,508.3 L206.8,508.1 L207.6,507.9 L208.4,507.7 L209.2,507.4 L210.0,507.1 L210.8,506.8 L211.6,506.5 L212.5,506.3 L213.3,506.1 L214.1,506.0 L214.9,505.9 L215.7,506.0 L216.5,506.1 L217.3,506.2 L218.1,506.5 L218.9,506.7 L219.7,506.5 L220.5,505.9 L221.3,505.2 L222.1,504.4 L222.9,503.4 L223.7,502.2 L224.5,500.8 L225.3,499.1 L226.2,497.1 L227.0,494.8 L227.8,492.1 L228.6,489.0 L229.4,485.4 L230.2,481.4 L231.0,476.8 L231.8,471.8 L232.6,466.1 L233.4,459.9 L234.2,453.2 L235.0,446.0 L235.8,438.4 L236.6,430.5 L237.4,422.5 L238.2,414.5 L239.0,406.8 L239.9,399.8 L240.7,394.0 L241.5,390.6 L241.5,390.6 L242.3,395.0 L243.1,403.1 L243.9,412.8 L244.7,423.1 L245.5,433.5 L246.3,443.5 L247.1,452.9 L247.9,461.5 L248.7,469.3 L249.5,476.1 L250.3,482.0 L251.1,487.0 L251.9,491.3 L252.7,494.8 L253.6,497.7 L254.4,500.1 L255.2,502.0 L256.0,503.6 L256.8,504.8 L257.6,505.8 L258.4,506.5 L259.2,507.1 L260.0,507.6 L260.8,507.9 L261.6,508.2 L262.4,508.4" fill="none" stroke="#e6506e" stroke-opacity="0.5" stroke-width="0.8"/>
<path d="M235.8,508.90 L235.8,508.4 L236.6,508.1 L237.4,507.8 L238.2,507.4 L239.0,506.8 L239.9,506.1 L240.7,505.1 L241.5,503.7 L242.3,502.0 L243.1,499.7 L243.9,496.9 L244.7,493.3 L245.5,488.9 L246.3,483.5 L247.1,477.1 L247.9,469.5 L248.7,460.7 L249.5,450.8 L250.3,439.8 L251.1,428.2 L251.9,416.4 L252.7,405.2 L253.6,395.7 L254.3,390.6 L254.4,390.7 L255.2,398.6 L256.0,410.8 L256.8,424.6 L257.6,438.3 L258.4,451.2 L259.2,462.7 L260.0,472.6 L260.8,480.9 L261.6,487.6 L262.4,493.0 L263.2,497.2 L264.0,500.4 L264.8,502.8 L265.6,504.6 L266.4,505.9 L267.3,506.8 L268.1,507.5 L268.9,508.0 L269.7,508.3 L269.7,508.90 Z" fill="#64aa64" fill-opacity="0.14"/>
<path d="M235.8,508.4 L236.6,508.1 L237.4,507.8 L238.2,507.4 L239.0,506.8 L239.9,506.1 L240.7,505.1 L241.5,503.7 L242.3,502.0 L243.1,499.7 L243.9,496.9 L244.7,493.3 L245.5,488.9 L246.3,483.5 L247.1,477.1 L247.9,469.5 L248.7,460.7 L249.5,450.8 L250.3,439.8 L251.1,428.2 L251.9,416.4 L252.7,405.2 L253.6,395.7 L254.3,390.6 L254.4,390.7 L255.2,398.6 L256.0,410.8 L256.8,424.6 L257.6,438.3 L258.4,451.2 L259.2,462.7 L260.0,472.6 L260.8,480.9 L261.6,487.6 L262.4,493.0 L263.2,497.2 L264.0,500.4 L264.8,502.8 L265.6,504.6 L266.4,505.9 L267.3,506.8 L268.1,507.5 L268.9,508.0 L269.7,508.3" fill="none" stroke="#64aa64" stroke-opacity="0.5" stroke-width="0.8"/>
<path d="M242.3,508.90 L242.3,508.3 L243.1,508.0 L243.9,507.6 L244.7,507.1 L245.5,506.4 L246.3,505.5 L247.1,504.4 L247.9,502.8 L248.7,500.8 L249.5,498.2 L250.3,495.0 L251.1,491.0 L251.9,486.1 L252.7,480.1 L253.6,473.0 L254.4,464.7 L255.2,455.3 L256.0,444.8 L256.8,433.5 L257.6,421.7 L258.4,410.1 L259.2,399.6 L260.0,391.9 L260.3,390.6 L260.8,394.2 L261.6,405.1 L262.4,418.4 L263.2,432.3 L264.0,445.6 L264.8,457.8 L265.6,468.4 L266.4,477.4 L267.3,484.8 L268.1,490.8 L268.9,495.5 L269.7,499.1 L270.5,501.8 L271.3,503.9 L272.1,505.4 L272.9,506.5 L273.7,507.2 L274.5,507.8 L275.3,508.1 L276.1,508.4 L276.1,508.90 Z" fill="#5a64dc" fill-opacity="0.14"/>
<path d="M242.3,508.3 L243.1,508.0 L243.9,507.6 L244.7,507.1 L245.5,506.4 L246.3,505.5 L247.1,504.4 L247.9,502.8 L248.7,500.8 L249.5,498.2 L250.3,495.0 L251.1,491.0 L251.9,486.1 L252.7,480.1 L253.6,473.0 L254.4,464.7 L255.2,455.3 L256.0,444.8 L256.8,433.5 L257.6,421.7 L258.4,410.1 L259.2,399.6 L260.0,391.9 L260.3,390.6 L260.8,394.2 L261.6,405.1 L262.4,418.4 L263.2,432.3 L264.0,445.6 L264.8,457.8 L265.6,468.4 L266.4,477.4 L267.3,484.8 L268.1,490.8 L268.9,495.5 L269.7,499.1 L270.5,501.8 L271.3,503.9 L272.1,505.4 L272.9,506.5 L273.7,507.2 L274.5,507.8 L275.3,508.1 L276.1,508.4" fill="none" stroke="#5a64dc" stroke-opacity="0.5" stroke-width="0.8"/>
<path d="M247.1,508.90 L247.1,508.4 L247.9,508.2 L248.7,507.9 L249.5,507.5 L250.3,506.9 L251.1,506.2 L251.9,505.2 L252.7,503.9 L253.6,502.3 L254.4,500.1 L255.2,497.4 L256.0,493.9 L256.8,489.6 L257.6,484.4 L258.4,478.1 L259.2,470.7 L260.0,462.0 L260.8,452.3 L261.6,441.5 L262.4,430.0 L263.2,418.2 L264.0,406.8 L264.8,396.9 L265.6,390.7 L265.7,390.6 L266.4,397.0 L267.3,408.9 L268.1,422.5 L268.9,436.3 L269.7,449.4 L270.5,461.1 L271.3,471.3 L272.1,479.8 L272.9,486.7 L273.7,492.3 L274.5,496.7 L275.3,500.0 L276.1,502.5 L276.9,504.4 L277.7,505.7 L278.5,506.7 L279.3,507.4 L280.1,507.9 L281.0,508.2 L281.0,508.90 Z" fill="#e6828c" fill-opacity="0.14"/>
<path d="M247.1,508.4 L247.9,508.2 L248.7,507.9 L249.5,507.5 L250.3,506.9 L251.1,506.2 L251.9,505.2 L252.7,503.9 L253.6,502.3 L254.4,500.1 L255.2,497.4 L256.0,493.9 L256.8,489.6 L257.6,484.4 L258.4,478.1 L259.2,470.7 L260.0,462.0 L260.8,452.3 L261.6,441.5 L262.4,430.0 L263.2,418.2 L264.0,406.8 L264.8,396.9 L265.6,390.7 L265.7,390.6 L266.4,397.0 L267.3,408.9 L268.1,422.5 L268.9,436.3 L269.7,449.4 L270.5,461.1 L271.3,471.3 L272.1,479.8 L272.9,486.7 L273.7,492.3 L274.5,496.7 L275.3,500.0 L276.1,502.5 L276.9,504.4 L277.7,505.7 L278.5,506.7 L279.3,507.4 L280.1,507.9 L281.0,508.2" fill="none" stroke="#e6828c" stroke-opacity="0.5" stroke-width="0.8"/>
<path d="M249.5,508.90 L249.5,508.4 L250.3,508.1 L251.1,507.8 L251.9,507.4 L252.7,506.8 L253.6,506.1 L254.4,505.1 L255.2,503.7 L256.0,502.0 L256.8,499.7 L257.6,496.9 L258.4,493.3 L259.2,488.9 L260.0,483.5 L260.8,477.1 L261.6,469.5 L262.4,460.7 L263.2,450.8 L264.0,439.8 L264.8,428.2 L265.6,416.4 L266.4,405.2 L267.3,395.7 L268.0,390.6 L268.1,390.7 L268.9,398.6 L269.7,410.8 L270.5,424.6 L271.3,438.3 L272.1,451.2 L272.9,462.7 L273.7,472.6 L274.5,480.9 L275.3,487.6 L276.1,493.0 L276.9,497.2 L277.7,500.4 L278.5,502.8 L279.3,504.6 L280.1,505.9 L281.0,506.8 L281.8,507.5 L282.6,508.0 L283.4,508.3 L283.4,508.90 Z" fill="#d7af82" fill-opacity="0.14"/>
<path d="M249.5,508.4 L250.3,508.1 L251.1,507.8 L251.9,507.4 L252.7,506.8 L253.6,506.1 L254.4,505.1 L255.2,503.7 L256.0,502.0 L256.8,499.7 L257.6,496.9 L258.4,493.3 L259.2,488.9 L260.0,483.5 L260.8,477.1 L261.6,469.5 L262.4,460.7 L263.2,450.8 L264.0,439.8 L264.8,428.2 L265.6,416.4 L266.4,405.2 L267.3,395.7 L268.0,390.6 L268.1,390.7 L268.9,398.6 L269.7,410.8 L270.5,424.6 L271.3,438.3 L272.1,451.2 L272.9,462.7 L273.7,472.6 L274.5,480.9 L275.3,487.6 L276.1,493.0 L276.9,497.2 L277.7,500.4 L278.5,502.8 L279.3,504.6 L280.1,505.9 L281.0,506.8 L281.8,507.5 L282.6,508.0 L283.4,508.3" fill="none" stroke="#d7af82" stroke-opacity="0.5" stroke-width="0.8"/>
<path d="M252.7,508.90 L252.7,508.4 L253.6,508.2 L254.4,507.9 L255.2,507.5 L256.0,506.9 L256.8,506.2 L257.6,505.2 L258.4,503.9 L259.2,502.2 L260.0,500.0 L260.8,497.2 L261.6,493.7 L262.4,489.4 L263.2,484.1 L264.0,477.7 L264.8,470.2 L265.6,461.6 L266.4,451.7 L267.3,440.9 L268.1,429.4 L268.9,417.6 L269.7,406.2 L270.5,396.5 L271.3,390.6 L271.3,390.6 L272.1,397.6 L272.9,409.6 L273.7,423.2 L274.5,437.0 L275.3,450.0 L276.1,461.7 L276.9,471.7 L277.7,480.2 L278.5,487.1 L279.3,492.6 L280.1,496.9 L281.0,500.1 L281.8,502.6 L282.6,504.5 L283.4,505.8 L284.2,506.8 L285.0,507.4 L285.8,507.9 L286.6,508.2 L286.6,508.90 Z" fill="#826ec8" fill-opacity="0.14"/>
<path d="M252.7,508.4 L253.6,508.2 L254.4,507.9 L255.2,507.5 L256.0,506.9 L256.8,506.2 L257.6,505.2 L258.4,503.9 L259.2,502.2 L260.0,500.0 L260.8,497.2 L261.6,493.7 L262.4,489.4 L263.2,484.1 L264.0,477.7 L264.8,470.2 L265.6,461.6 L266.4,451.7 L267.3,440.9 L268.1,429.4 L268.9,417.6 L269.7,406.2 L270.5,396.5 L271.3,390.6 L271.3,390.6 L272.1,397.6 L272.9,409.6 L273.7,423.2 L274.5,437.0 L275.3,450.0 L276.1,461.7 L276.9,471.7 L277.7,480.2 L278.5,487.1 L279.3,492.6 L280.1,496.9 L281.0,500.1 L281.8,502.6 L282.6,504.5 L283.4,505.8 L284.2,506.8 L285.0,507.4 L285.8,507.9 L286.6,508.2" fill="none" stroke="#826ec8" stroke-opacity="0.5" stroke-width="0.8"/>
</g>
<rect x="204.70" y="378.20" width="138.00" height="130.80" fill="none" stroke="#9a9a9a" stroke-width="1"/>
<line x1="204.70" y1="508.90" x2="206.20" y2="508.90" stroke="#888" stroke-width="0.6"/>
<text class="s" transform="translate(200.90,508.90) rotate(-90)" text-anchor="middle" style="font-family:'Liberation Serif',serif;font-weight:bold;font-size:7.4px" fill="#222" stroke="#222">0</text>
<line x1="204.70" y1="485.24" x2="206.20" y2="485.24" stroke="#888" stroke-width="0.6"/>
<text class="s" transform="translate(200.90,485.24) rotate(-90)" text-anchor="middle" style="font-family:'Liberation Serif',serif;font-weight:bold;font-size:7.4px" fill="#222" stroke="#222">20</text>
<line x1="204.70" y1="461.58" x2="206.20" y2="461.58" stroke="#888" stroke-width="0.6"/>
<text class="s" transform="translate(200.90,461.58) rotate(-90)" text-anchor="middle" style="font-family:'Liberation Serif',serif;font-weight:bold;font-size:7.4px" fill="#222" stroke="#222">40</text>
<line x1="204.70" y1="437.92" x2="206.20" y2="437.92" stroke="#888" stroke-width="0.6"/>
<text class="s" transform="translate(200.90,437.92) rotate(-90)" text-anchor="middle" style="font-family:'Liberation Serif',serif;font-weight:bold;font-size:7.4px" fill="#222" stroke="#222">60</text>
<line x1="204.70" y1="414.26" x2="206.20" y2="414.26" stroke="#888" stroke-width="0.6"/>
<text class="s" transform="translate(200.90,414.26) rotate(-90)" text-anchor="middle" style="font-family:'Liberation Serif',serif;font-weight:bold;font-size:7.4px" fill="#222" stroke="#222">80</text>
<line x1="204.70" y1="390.60" x2="206.20" y2="390.60" stroke="#888" stroke-width="0.6"/>
<text class="s" transform="translate(200.90,390.60) rotate(-90)" text-anchor="middle" style="font-family:'Liberation Serif',serif;font-weight:bold;font-size:7.4px" fill="#222" stroke="#222">100</text>
<text class="s" transform="translate(189.30,443.20) rotate(-90)" text-anchor="middle" style="font-family:'Liberation Serif',serif;font-weight:bold;font-size:7.2px" fill="#222" stroke="#222">Count<tspan dx="3.3">(%)</tspan></text>
<text class="s" x="203.60" y="518.50" style="font-family:'Liberation Serif',serif;font-weight:bold;font-size:7.4px" fill="#222" stroke="#222">10<tspan dx="0.6" dy="-3.1" style="font-size:4.9px">2</tspan></text>
<text class="s" x="234.50" y="518.50" style="font-family:'Liberation Serif',serif;font-weight:bold;font-size:7.4px" fill="#222" stroke="#222">10<tspan dx="0.6" dy="-3.1" style="font-size:4.9px">3</tspan></text>
<text class="s" x="268.60" y="518.50" style="font-family:'Liberation Serif',serif;font-weight:bold;font-size:7.4px" fill="#222" stroke="#222">10<tspan dx="0.6" dy="-3.1" style="font-size:4.9px">4</tspan></text>
<text class="s" x="302.80" y="518.50" style="font-family:'Liberation Serif',serif;font-weight:bold;font-size:7.4px" fill="#222" stroke="#222">10<tspan dx="0.6" dy="-3.1" style="font-size:4.9px">5</tspan></text>
<text class="s" x="335.00" y="518.50" style="font-family:'Liberation Serif',serif;font-weight:bold;font-size:7.4px" fill="#222" stroke="#222">10<tspan dx="0.6" dy="-3.1" style="font-size:4.9px">6</tspan></text>
<text class="s" x="274.20" y="531.10" text-anchor="middle" style="font-family:'Liberation Serif',serif;font-weight:bold;font-size:7.2px" fill="#222" stroke="#222">PE-Cy7-H</text>
<line x1="268.30" y1="462.50" x2="342.70" y2="462.50" stroke="#7a7a7a" stroke-width="1"/>
<line x1="268.30" y1="461.30" x2="268.30" y2="463.70" stroke="#777" stroke-width="0.8"/>
<text x="317.60" y="397.10" text-anchor="end" style="font-family:'Liberation Serif',serif;font-weight:bold;font-size:9.8px" fill="#111" stroke="#111">6 h-block</text>
<rect x="387.40" y="9.50" width="154.50" height="134.30" fill="none" stroke="#2a2a2a" stroke-width="1.3"/>
<line x1="387.40" y1="132.51" x2="389.80" y2="132.51" stroke="#2a2a2a" stroke-width="1"/>
<line x1="387.40" y1="121.22" x2="391.00" y2="121.22" stroke="#2a2a2a" stroke-width="1"/>
<line x1="387.40" y1="109.93" x2="389.80" y2="109.93" stroke="#2a2a2a" stroke-width="1"/>
<line x1="387.40" y1="98.64" x2="391.00" y2="98.64" stroke="#2a2a2a" stroke-width="1"/>
<line x1="387.40" y1="87.35" x2="389.80" y2="87.35" stroke="#2a2a2a" stroke-width="1"/>
<line x1="387.40" y1="76.06" x2="391.00" y2="76.06" stroke="#2a2a2a" stroke-width="1"/>
<line x1="387.40" y1="64.77" x2="389.80" y2="64.77" stroke="#2a2a2a" stroke-width="1"/>
<line x1="387.40" y1="53.48" x2="391.00" y2="53.48" stroke="#2a2a2a" stroke-width="1"/>
<line x1="387.40" y1="42.19" x2="389.80" y2="42.19" stroke="#2a2a2a" stroke-width="1"/>
<line x1="387.40" y1="30.90" x2="391.00" y2="30.90" stroke="#2a2a2a" stroke-width="1"/>
<line x1="387.40" y1="19.61" x2="389.80" y2="19.61" stroke="#2a2a2a" stroke-width="1"/>
<text x="384.50" y="147.40" text-anchor="end" style="font-family:'Liberation Serif',serif;font-weight:bold;font-size:10.5px" fill="#111" stroke="#111">0</text>
<text x="384.50" y="124.82" text-anchor="end" style="font-family:'Liberation Serif',serif;font-weight:bold;font-size:10.5px" fill="#111" stroke="#111">20</text>
<text x="384.50" y="102.24" text-anchor="end" style="font-family:'Liberation Serif',serif;font-weight:bold;font-size:10.5px" fill="#111" stroke="#111">40</text>
<text x="384.50" y="79.66" text-anchor="end" style="font-family:'Liberation Serif',serif;font-weight:bold;font-size:10.5px" fill="#111" stroke="#111">60</text>
<text x="384.50" y="57.08" text-anchor="end" style="font-family:'Liberation Serif',serif;font-weight:bold;font-size:10.5px" fill="#111" stroke="#111">80</text>
<text x="384.50" y="34.50" text-anchor="end" style="font-family:'Liberation Serif',serif;font-weight:bold;font-size:10.5px" fill="#111" stroke="#111">100</text>
<text transform="translate(364.60,76.40) rotate(-90)" text-anchor="middle" style="font-family:'Liberation Serif',serif;font-weight:bold;font-size:11.3px" fill="#111" stroke="#111">Cell percentage (%)</text>
<text x="464.60" y="171.50" text-anchor="middle" style="font-family:'Liberation Serif',serif;font-weight:bold;font-size:11.4px" fill="#111" stroke="#111">IR820 concentration (&#956;M)</text>
<text x="400.10" y="155.70" text-anchor="middle" style="font-family:'Liberation Serif',serif;font-weight:bold;font-size:10px" fill="#111" stroke="#111">0</text>
<text x="423.60" y="155.70" text-anchor="middle" style="font-family:'Liberation Serif',serif;font-weight:bold;font-size:10px" fill="#111" stroke="#111">0.5</text>
<text x="447.10" y="155.70" text-anchor="middle" style="font-family:'Liberation Serif',serif;font-weight:bold;font-size:10px" fill="#111" stroke="#111">1.0</text>
<text x="470.60" y="155.70" text-anchor="middle" style="font-family:'Liberation Serif',serif;font-weight:bold;font-size:10px" fill="#111" stroke="#111">1.5</text>
<text x="494.10" y="155.70" text-anchor="middle" style="font-family:'Liberation Serif',serif;font-weight:bold;font-size:10px" fill="#111" stroke="#111">2.0</text>
<text x="517.60" y="155.70" text-anchor="middle" style="font-family:'Liberation Serif',serif;font-weight:bold;font-size:10px" fill="#111" stroke="#111">2.5</text>
<rect x="414.30" y="143.46" width="9.50" height="0.34" fill="#000" stroke="#111" stroke-width="0.80"/>
<rect x="423.80" y="142.67" width="9.50" height="1.13" fill="#f00a14" stroke="#111" stroke-width="0.80"/>
<rect x="437.80" y="143.24" width="9.50" height="0.56" fill="#000" stroke="#111" stroke-width="0.80"/>
<rect x="447.30" y="133.86" width="9.50" height="9.94" fill="#f00a14" stroke="#111" stroke-width="0.80"/>
<path d="M451.50,132.17 V135.56 M450.00,132.17 h3.0 M450.00,135.56 h3.0" stroke="#111" stroke-width="0.8" fill="none"/>
<rect x="461.30" y="142.67" width="9.50" height="1.13" fill="#000" stroke="#111" stroke-width="0.80"/>
<rect x="470.80" y="123.93" width="9.50" height="19.87" fill="#f00a14" stroke="#111" stroke-width="0.80"/>
<path d="M475.50,121.67 V126.19 M474.00,121.67 h3.0 M474.00,126.19 h3.0" stroke="#111" stroke-width="0.8" fill="none"/>
<rect x="484.80" y="140.86" width="9.50" height="2.94" fill="#000" stroke="#111" stroke-width="0.80"/>
<rect x="494.30" y="108.58" width="9.50" height="35.22" fill="#f00a14" stroke="#111" stroke-width="0.80"/>
<path d="M498.50,105.41 V111.74 M497.00,105.41 h3.0 M497.00,111.74 h3.0" stroke="#111" stroke-width="0.8" fill="none"/>
<rect x="508.30" y="139.28" width="9.50" height="4.52" fill="#000" stroke="#111" stroke-width="0.80"/>
<rect x="517.80" y="60.03" width="9.50" height="83.77" fill="#f00a14" stroke="#111" stroke-width="0.80"/>
<path d="M522.50,57.09 V62.96 M521.00,57.09 h3.0 M521.00,62.96 h3.0" stroke="#111" stroke-width="0.8" fill="none"/>
<path d="M442.50,142.24 V125.50 H451.50 V130.67" fill="none" stroke="#3a3a3a" stroke-width="0.8"/>
<text class="s" x="447.23" y="123.87" text-anchor="middle" style="font-family:'Liberation Serif',serif;font-weight:bold;font-size:6.5px;letter-spacing:0.5px" fill="#444" stroke="#444">***</text>
<path d="M466.50,141.67 V114.50 H475.50 V120.17" fill="none" stroke="#3a3a3a" stroke-width="0.8"/>
<text class="s" x="471.23" y="112.82" text-anchor="middle" style="font-family:'Liberation Serif',serif;font-weight:bold;font-size:6.5px;letter-spacing:0.5px" fill="#444" stroke="#444">***</text>
<path d="M489.50,139.86 V96.50 H498.50 V103.91" fill="none" stroke="#3a3a3a" stroke-width="0.8"/>
<text class="s" x="494.23" y="95.17" text-anchor="middle" style="font-family:'Liberation Serif',serif;font-weight:bold;font-size:6.5px;letter-spacing:0.5px" fill="#444" stroke="#444">***</text>
<path d="M513.50,138.28 V48.50 H522.50 V55.59" fill="none" stroke="#3a3a3a" stroke-width="0.8"/>
<text class="s" x="518.23" y="46.67" text-anchor="middle" style="font-family:'Liberation Serif',serif;font-weight:bold;font-size:6.5px;letter-spacing:0.5px" fill="#444" stroke="#444">***</text>
<rect x="409.30" y="21.00" width="13.60" height="6.50" fill="#000" stroke="#111" stroke-width="0.80"/>
<rect x="409.30" y="34.10" width="13.60" height="6.00" fill="#f00a14" stroke="#111" stroke-width="0.80"/>
<text x="430.8" y="27.6" style="font-family:'Liberation Serif',serif;font-weight:bold;font-size:9.8px" fill="#111" stroke="#111">Ac-P/IR820</text>
<text x="430.8" y="40.2" style="font-family:'Liberation Serif',serif;font-weight:bold;font-size:9.8px" fill="#111" stroke="#111">Ac-PR/IR820</text>
<rect x="387.40" y="188.90" width="154.50" height="134.30" fill="none" stroke="#2a2a2a" stroke-width="1.3"/>
<line x1="387.40" y1="311.91" x2="389.80" y2="311.91" stroke="#2a2a2a" stroke-width="1"/>
<line x1="387.40" y1="300.62" x2="391.00" y2="300.62" stroke="#2a2a2a" stroke-width="1"/>
<line x1="387.40" y1="289.33" x2="389.80" y2="289.33" stroke="#2a2a2a" stroke-width="1"/>
<line x1="387.40" y1="278.04" x2="391.00" y2="278.04" stroke="#2a2a2a" stroke-width="1"/>
<line x1="387.40" y1="266.75" x2="389.80" y2="266.75" stroke="#2a2a2a" stroke-width="1"/>
<line x1="387.40" y1="255.46" x2="391.00" y2="255.46" stroke="#2a2a2a" stroke-width="1"/>
<line x1="387.40" y1="244.17" x2="389.80" y2="244.17" stroke="#2a2a2a" stroke-width="1"/>
<line x1="387.40" y1="232.88" x2="391.00" y2="232.88" stroke="#2a2a2a" stroke-width="1"/>
<line x1="387.40" y1="221.59" x2="389.80" y2="221.59" stroke="#2a2a2a" stroke-width="1"/>
<line x1="387.40" y1="210.30" x2="391.00" y2="210.30" stroke="#2a2a2a" stroke-width="1"/>
<line x1="387.40" y1="199.01" x2="389.80" y2="199.01" stroke="#2a2a2a" stroke-width="1"/>
<text x="384.50" y="326.80" text-anchor="end" style="font-family:'Liberation Serif',serif;font-weight:bold;font-size:10.5px" fill="#111" stroke="#111">0</text>
<text x="384.50" y="304.22" text-anchor="end" style="font-family:'Liberation Serif',serif;font-weight:bold;font-size:10.5px" fill="#111" stroke="#111">20</text>
<text x="384.50" y="281.64" text-anchor="end" style="font-family:'Liberation Serif',serif;font-weight:bold;font-size:10.5px" fill="#111" stroke="#111">40</text>
<text x="384.50" y="259.06" text-anchor="end" style="font-family:'Liberation Serif',serif;font-weight:bold;font-size:10.5px" fill="#111" stroke="#111">60</text>
<text x="384.50" y="236.48" text-anchor="end" style="font-family:'Liberation Serif',serif;font-weight:bold;font-size:10.5px" fill="#111" stroke="#111">80</text>
<text x="384.50" y="213.90" text-anchor="end" style="font-family:'Liberation Serif',serif;font-weight:bold;font-size:10.5px" fill="#111" stroke="#111">100</text>
<text transform="translate(364.60,255.80) rotate(-90)" text-anchor="middle" style="font-family:'Liberation Serif',serif;font-weight:bold;font-size:11.3px" fill="#111" stroke="#111">Cell percentage (%)</text>
<text x="464.60" y="350.90" text-anchor="middle" style="font-family:'Liberation Serif',serif;font-weight:bold;font-size:11.4px" fill="#111" stroke="#111">IR820 concentration (&#956;M)</text>
<text x="400.10" y="335.10" text-anchor="middle" style="font-family:'Liberation Serif',serif;font-weight:bold;font-size:10px" fill="#111" stroke="#111">0</text>
<text x="423.60" y="335.10" text-anchor="middle" style="font-family:'Liberation Serif',serif;font-weight:bold;font-size:10px" fill="#111" stroke="#111">0.5</text>
<text x="447.10" y="335.10" text-anchor="middle" style="font-family:'Liberation Serif',serif;font-weight:bold;font-size:10px" fill="#111" stroke="#111">1.0</text>
<text x="470.60" y="335.10" text-anchor="middle" style="font-family:'Liberation Serif',serif;font-weight:bold;font-size:10px" fill="#111" stroke="#111">1.5</text>
<text x="494.10" y="335.10" text-anchor="middle" style="font-family:'Liberation Serif',serif;font-weight:bold;font-size:10px" fill="#111" stroke="#111">2.0</text>
<text x="517.60" y="335.10" text-anchor="middle" style="font-family:'Liberation Serif',serif;font-weight:bold;font-size:10px" fill="#111" stroke="#111">2.5</text>
<rect x="414.30" y="322.97" width="9.50" height="0.23" fill="#28c81e" stroke="#111" stroke-width="0.80"/>
<rect x="423.80" y="318.68" width="9.50" height="4.52" fill="#0a46b4" stroke="#111" stroke-width="0.80"/>
<rect x="437.80" y="322.75" width="9.50" height="0.45" fill="#28c81e" stroke="#111" stroke-width="0.80"/>
<rect x="447.30" y="281.43" width="9.50" height="41.77" fill="#0a46b4" stroke="#111" stroke-width="0.80"/>
<path d="M451.50,277.48 V285.38 M450.00,277.48 h3.0 M450.00,285.38 h3.0" stroke="#111" stroke-width="0.8" fill="none"/>
<rect x="461.30" y="320.04" width="9.50" height="3.16" fill="#28c81e" stroke="#111" stroke-width="0.80"/>
<rect x="470.80" y="254.33" width="9.50" height="68.87" fill="#0a46b4" stroke="#111" stroke-width="0.80"/>
<path d="M475.50,249.81 V258.85 M474.00,249.81 h3.0 M474.00,258.85 h3.0" stroke="#111" stroke-width="0.8" fill="none"/>
<rect x="484.80" y="316.43" width="9.50" height="6.77" fill="#28c81e" stroke="#111" stroke-width="0.80"/>
<rect x="494.30" y="230.96" width="9.50" height="92.24" fill="#0a46b4" stroke="#111" stroke-width="0.80"/>
<path d="M498.50,228.14 V233.78 M497.00,228.14 h3.0 M497.00,233.78 h3.0" stroke="#111" stroke-width="0.8" fill="none"/>
<rect x="508.30" y="311.01" width="9.50" height="12.19" fill="#28c81e" stroke="#111" stroke-width="0.80"/>
<rect x="517.80" y="214.82" width="9.50" height="108.38" fill="#0a46b4" stroke="#111" stroke-width="0.80"/>
<path d="M522.50,213.69 V215.94 M521.00,213.69 h3.0 M521.00,215.94 h3.0" stroke="#111" stroke-width="0.8" fill="none"/>
<path d="M442.50,321.75 V269.50 H451.50 V275.98" fill="none" stroke="#3a3a3a" stroke-width="0.8"/>
<text class="s" x="447.23" y="268.20" text-anchor="middle" style="font-family:'Liberation Serif',serif;font-weight:bold;font-size:6.5px;letter-spacing:0.5px" fill="#444" stroke="#444">***</text>
<path d="M466.50,319.04 V242.50 H475.50 V248.31" fill="none" stroke="#3a3a3a" stroke-width="0.8"/>
<text class="s" x="471.23" y="241.03" text-anchor="middle" style="font-family:'Liberation Serif',serif;font-weight:bold;font-size:6.5px;letter-spacing:0.5px" fill="#444" stroke="#444">***</text>
<path d="M489.50,315.43 V220.50 H498.50 V226.64" fill="none" stroke="#3a3a3a" stroke-width="0.8"/>
<text class="s" x="494.23" y="217.17" text-anchor="middle" style="font-family:'Liberation Serif',serif;font-weight:bold;font-size:6.5px;letter-spacing:0.5px" fill="#444" stroke="#444">***</text>
<path d="M513.50,310.01 V206.50 H522.50 V212.19" fill="none" stroke="#3a3a3a" stroke-width="0.8"/>
<text class="s" x="518.23" y="201.31" text-anchor="middle" style="font-family:'Liberation Serif',serif;font-weight:bold;font-size:6.5px;letter-spacing:0.5px" fill="#444" stroke="#444">***</text>
<rect x="403.20" y="200.10" width="13.60" height="6.30" fill="#28c81e" stroke="#111" stroke-width="0.80"/>
<rect x="403.20" y="214.30" width="13.60" height="6.10" fill="#0a46b4" stroke="#111" stroke-width="0.80"/>
<text x="422.8" y="206.6" style="font-family:'Liberation Serif',serif;font-weight:bold;font-size:9.8px" fill="#111" stroke="#111">Ac-P/IR820</text>
<text x="422.8" y="220.2" style="font-family:'Liberation Serif',serif;font-weight:bold;font-size:9.8px" fill="#111" stroke="#111">Ac-PR/IR820</text>
<rect x="387.60" y="369.10" width="155.90" height="135.30" fill="none" stroke="#2a2a2a" stroke-width="1.3"/>
<line x1="387.60" y1="493.10" x2="390.00" y2="493.10" stroke="#2a2a2a" stroke-width="1"/>
<line x1="387.60" y1="481.80" x2="391.20" y2="481.80" stroke="#2a2a2a" stroke-width="1"/>
<line x1="387.60" y1="470.50" x2="390.00" y2="470.50" stroke="#2a2a2a" stroke-width="1"/>
<line x1="387.60" y1="459.20" x2="391.20" y2="459.20" stroke="#2a2a2a" stroke-width="1"/>
<line x1="387.60" y1="447.90" x2="390.00" y2="447.90" stroke="#2a2a2a" stroke-width="1"/>
<line x1="387.60" y1="436.60" x2="391.20" y2="436.60" stroke="#2a2a2a" stroke-width="1"/>
<line x1="387.60" y1="425.30" x2="390.00" y2="425.30" stroke="#2a2a2a" stroke-width="1"/>
<line x1="387.60" y1="414.00" x2="391.20" y2="414.00" stroke="#2a2a2a" stroke-width="1"/>
<line x1="387.60" y1="402.70" x2="390.00" y2="402.70" stroke="#2a2a2a" stroke-width="1"/>
<line x1="387.60" y1="391.40" x2="391.20" y2="391.40" stroke="#2a2a2a" stroke-width="1"/>
<line x1="387.60" y1="380.10" x2="390.00" y2="380.10" stroke="#2a2a2a" stroke-width="1"/>
<text x="384.50" y="508.00" text-anchor="end" style="font-family:'Liberation Serif',serif;font-weight:bold;font-size:10.5px" fill="#111" stroke="#111">0</text>
<text x="384.50" y="485.40" text-anchor="end" style="font-family:'Liberation Serif',serif;font-weight:bold;font-size:10.5px" fill="#111" stroke="#111">20</text>
<text x="384.50" y="462.80" text-anchor="end" style="font-family:'Liberation Serif',serif;font-weight:bold;font-size:10.5px" fill="#111" stroke="#111">40</text>
<text x="384.50" y="440.20" text-anchor="end" style="font-family:'Liberation Serif',serif;font-weight:bold;font-size:10.5px" fill="#111" stroke="#111">60</text>
<text x="384.50" y="417.60" text-anchor="end" style="font-family:'Liberation Serif',serif;font-weight:bold;font-size:10.5px" fill="#111" stroke="#111">80</text>
<text x="384.50" y="395.00" text-anchor="end" style="font-family:'Liberation Serif',serif;font-weight:bold;font-size:10.5px" fill="#111" stroke="#111">100</text>
<text transform="translate(364.60,436.90) rotate(-90)" text-anchor="middle" style="font-family:'Liberation Serif',serif;font-weight:bold;font-size:11.3px" fill="#111" stroke="#111">Cell percentage (%)</text>
<text x="465.90" y="531.40" text-anchor="middle" style="font-family:'Liberation Serif',serif;font-weight:bold;font-size:11.4px" fill="#111" stroke="#111">IR820 concentration (&#956;M)</text>
<text class="s" x="397.30" y="515.40" text-anchor="middle" style="font-family:'Liberation Serif',serif;font-weight:bold;font-size:6.6px;letter-spacing:0.12px" fill="#111" stroke="#111">0</text>
<text class="s" x="408.00" y="515.40" text-anchor="middle" style="font-family:'Liberation Serif',serif;font-weight:bold;font-size:6.6px;letter-spacing:0.12px" fill="#111" stroke="#111">0.5</text>
<text class="s" x="418.90" y="515.40" text-anchor="middle" style="font-family:'Liberation Serif',serif;font-weight:bold;font-size:6.6px;letter-spacing:0.12px" fill="#111" stroke="#111">1.0</text>
<text class="s" x="430.00" y="515.40" text-anchor="middle" style="font-family:'Liberation Serif',serif;font-weight:bold;font-size:6.6px;letter-spacing:0.12px" fill="#111" stroke="#111">1.5</text>
<text class="s" x="441.40" y="515.40" text-anchor="middle" style="font-family:'Liberation Serif',serif;font-weight:bold;font-size:6.6px;letter-spacing:0.12px" fill="#111" stroke="#111">2.0</text>
<text class="s" x="452.30" y="515.40" text-anchor="middle" style="font-family:'Liberation Serif',serif;font-weight:bold;font-size:6.6px;letter-spacing:0.12px" fill="#111" stroke="#111">2.5</text>
<text class="s" x="468.60" y="515.40" text-anchor="middle" style="font-family:'Liberation Serif',serif;font-weight:bold;font-size:6.6px;letter-spacing:0.12px" fill="#111" stroke="#111">0</text>
<text class="s" x="479.30" y="515.40" text-anchor="middle" style="font-family:'Liberation Serif',serif;font-weight:bold;font-size:6.6px;letter-spacing:0.12px" fill="#111" stroke="#111">0.5</text>
<text class="s" x="490.50" y="515.40" text-anchor="middle" style="font-family:'Liberation Serif',serif;font-weight:bold;font-size:6.6px;letter-spacing:0.12px" fill="#111" stroke="#111">1.0</text>
<text class="s" x="501.30" y="515.40" text-anchor="middle" style="font-family:'Liberation Serif',serif;font-weight:bold;font-size:6.6px;letter-spacing:0.12px" fill="#111" stroke="#111">1.5</text>
<text class="s" x="512.80" y="515.40" text-anchor="middle" style="font-family:'Liberation Serif',serif;font-weight:bold;font-size:6.6px;letter-spacing:0.12px" fill="#111" stroke="#111">2.0</text>
<text class="s" x="524.00" y="515.40" text-anchor="middle" style="font-family:'Liberation Serif',serif;font-weight:bold;font-size:6.6px;letter-spacing:0.12px" fill="#111" stroke="#111">2.5</text>
<rect x="404.10" y="502.14" width="3.80" height="2.26" fill="#000" stroke="#111" stroke-width="0.60"/>
<rect x="407.20" y="503.95" width="3.10" height="0.45" fill="#e8141e" stroke="#111" stroke-width="0.60"/>
<rect x="415.00" y="493.44" width="3.80" height="10.96" fill="#000" stroke="#111" stroke-width="0.60"/>
<path d="M416.90,491.74 V495.13 M415.70,491.74 h2.4 M415.70,495.13 h2.4" stroke="#111" stroke-width="0.6" fill="none"/>
<rect x="418.10" y="501.57" width="3.10" height="2.82" fill="#e8141e" stroke="#111" stroke-width="0.60"/>
<rect x="426.10" y="484.40" width="3.80" height="20.00" fill="#000" stroke="#111" stroke-width="0.60"/>
<path d="M428.00,482.14 V486.66 M426.80,482.14 h2.4 M426.80,486.66 h2.4" stroke="#111" stroke-width="0.6" fill="none"/>
<rect x="429.20" y="499.88" width="3.10" height="4.52" fill="#e8141e" stroke="#111" stroke-width="0.60"/>
<rect x="437.50" y="468.24" width="3.80" height="36.16" fill="#000" stroke="#111" stroke-width="0.60"/>
<path d="M439.40,465.42 V471.06 M438.20,465.42 h2.4 M438.20,471.06 h2.4" stroke="#111" stroke-width="0.6" fill="none"/>
<rect x="440.60" y="493.78" width="3.10" height="10.62" fill="#e8141e" stroke="#111" stroke-width="0.60"/>
<rect x="448.40" y="419.08" width="3.80" height="85.31" fill="#000" stroke="#111" stroke-width="0.60"/>
<path d="M450.30,416.82 V421.34 M449.10,416.82 h2.4 M449.10,421.34 h2.4" stroke="#111" stroke-width="0.6" fill="none"/>
<rect x="451.50" y="465.41" width="3.10" height="38.99" fill="#e8141e" stroke="#111" stroke-width="0.60"/>
<rect x="475.40" y="499.20" width="3.80" height="5.20" fill="#0a46b4" stroke="#111" stroke-width="0.60"/>
<path d="M477.30,498.64 V499.77 M476.10,498.64 h2.4 M476.10,499.77 h2.4" stroke="#111" stroke-width="0.6" fill="none"/>
<rect x="478.50" y="502.37" width="3.10" height="2.03" fill="#b04c9c" stroke="#111" stroke-width="0.60"/>
<rect x="487.30" y="462.02" width="3.80" height="42.38" fill="#0a46b4" stroke="#111" stroke-width="0.60"/>
<path d="M489.20,459.20 V464.85 M488.00,459.20 h2.4 M488.00,464.85 h2.4" stroke="#111" stroke-width="0.6" fill="none"/>
<rect x="490.40" y="491.40" width="3.10" height="13.00" fill="#b04c9c" stroke="#111" stroke-width="0.60"/>
<rect x="497.70" y="434.90" width="3.80" height="69.50" fill="#0a46b4" stroke="#111" stroke-width="0.60"/>
<path d="M499.60,431.51 V438.29 M498.40,431.51 h2.4 M498.40,438.29 h2.4" stroke="#111" stroke-width="0.6" fill="none"/>
<rect x="500.80" y="481.80" width="3.10" height="22.60" fill="#b04c9c" stroke="#111" stroke-width="0.60"/>
<rect x="508.90" y="411.06" width="3.80" height="93.34" fill="#0a46b4" stroke="#111" stroke-width="0.60"/>
<path d="M510.80,408.80 V413.32 M509.60,408.80 h2.4 M509.60,413.32 h2.4" stroke="#111" stroke-width="0.6" fill="none"/>
<rect x="512.00" y="458.07" width="3.10" height="46.33" fill="#b04c9c" stroke="#111" stroke-width="0.60"/>
<rect x="520.60" y="394.79" width="3.80" height="109.61" fill="#0a46b4" stroke="#111" stroke-width="0.60"/>
<path d="M522.50,393.66 V395.92 M521.30,393.66 h2.4 M521.30,395.92 h2.4" stroke="#111" stroke-width="0.6" fill="none"/>
<rect x="523.70" y="420.21" width="3.10" height="84.19" fill="#b04c9c" stroke="#111" stroke-width="0.60"/>
<path d="M416.50,490.68 V486.50 H420.50 V501.07" fill="none" stroke="#555" stroke-width="0.7"/>
<text class="s" x="418.73" y="484.88" text-anchor="middle" style="font-family:'Liberation Serif',serif;font-weight:bold;font-size:5.6px;letter-spacing:0.5px" fill="#444" stroke="#444">**</text>
<path d="M427.50,481.64 V474.50 H431.50 V499.38" fill="none" stroke="#555" stroke-width="0.7"/>
<text class="s" x="429.73" y="472.79" text-anchor="middle" style="font-family:'Liberation Serif',serif;font-weight:bold;font-size:5.6px;letter-spacing:0.5px" fill="#444" stroke="#444">***</text>
<path d="M438.50,465.48 V458.50 H442.50 V493.28" fill="none" stroke="#555" stroke-width="0.7"/>
<text class="s" x="440.73" y="456.30" text-anchor="middle" style="font-family:'Liberation Serif',serif;font-weight:bold;font-size:5.6px;letter-spacing:0.5px" fill="#444" stroke="#444">***</text>
<path d="M449.50,416.32 V408.50 H453.50 V464.91" fill="none" stroke="#555" stroke-width="0.7"/>
<text class="s" x="451.73" y="406.80" text-anchor="middle" style="font-family:'Liberation Serif',serif;font-weight:bold;font-size:5.6px;letter-spacing:0.5px" fill="#444" stroke="#444">***</text>
<path d="M488.50,459.26 V452.50 H492.50 V490.90" fill="none" stroke="#555" stroke-width="0.7"/>
<text class="s" x="490.73" y="450.99" text-anchor="middle" style="font-family:'Liberation Serif',serif;font-weight:bold;font-size:5.6px;letter-spacing:0.5px" fill="#444" stroke="#444">***</text>
<path d="M499.50,432.14 V426.50 H502.50 V481.30" fill="none" stroke="#555" stroke-width="0.7"/>
<text class="s" x="501.23" y="424.20" text-anchor="middle" style="font-family:'Liberation Serif',serif;font-weight:bold;font-size:5.6px;letter-spacing:0.5px" fill="#444" stroke="#444">***</text>
<path d="M510.50,408.30 V403.50 H513.50 V457.57" fill="none" stroke="#555" stroke-width="0.7"/>
<text class="s" x="512.23" y="401.26" text-anchor="middle" style="font-family:'Liberation Serif',serif;font-weight:bold;font-size:5.6px;letter-spacing:0.5px" fill="#444" stroke="#444">***</text>
<path d="M522.50,392.03 V388.50 H525.50 V419.71" fill="none" stroke="#555" stroke-width="0.7"/>
<text class="s" x="524.23" y="386.57" text-anchor="middle" style="font-family:'Liberation Serif',serif;font-weight:bold;font-size:5.6px;letter-spacing:0.5px" fill="#444" stroke="#444">***</text>
<rect x="396.10" y="374.10" width="14.10" height="6.40" fill="#000" stroke="#111" stroke-width="0.80"/>
<rect x="396.10" y="383.40" width="14.10" height="6.40" fill="#f00a14" stroke="#111" stroke-width="0.80"/>
<rect x="461.10" y="374.10" width="14.10" height="6.30" fill="#0a46b4" stroke="#111" stroke-width="0.80"/>
<rect x="461.10" y="383.10" width="14.10" height="6.40" fill="#c850aa" stroke="#111" stroke-width="0.80"/>
<text class="s" x="417.3" y="379.8" style="font-family:'Liberation Serif',serif;font-weight:bold;font-size:7.3px" fill="#111" stroke="#111">3 h</text>
<text class="s" x="417.3" y="388.6" style="font-family:'Liberation Serif',serif;font-weight:bold;font-size:7.3px" fill="#111" stroke="#111">3 h-block</text>
<text class="s" x="482.3" y="379.8" style="font-family:'Liberation Serif',serif;font-weight:bold;font-size:7.3px" fill="#111" stroke="#111">6 h</text>
<text class="s" x="482.3" y="388.6" style="font-family:'Liberation Serif',serif;font-weight:bold;font-size:7.3px" fill="#111" stroke="#111">6 h-block</text>
</svg></body></html>
